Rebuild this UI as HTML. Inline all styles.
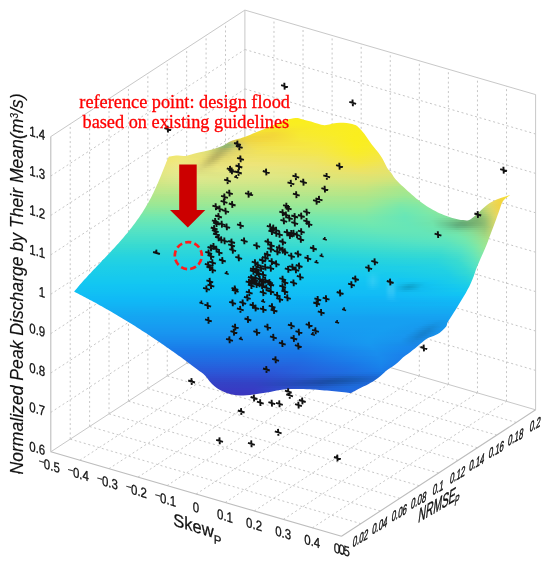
<!DOCTYPE html>
<html><head><meta charset="utf-8"><title>Surface plot</title><style>html,body{margin:0;padding:0;background:#fff}svg{display:block}</style></head>
<body><svg width="550" height="562" viewBox="0 0 550 562">
<rect width="550" height="562" fill="#fff"/>
<path d="M79.87 460.25L273.97 333.75M273.97 333.75L273.97 18.55M108.94 468.7L303.04 342.2M303.04 342.2L303.04 27M138.01 477.15L332.11 350.65M332.11 350.65L332.11 35.45M167.08 485.6L361.18 359.1M361.18 359.1L361.18 43.9M196.15 494.05L390.25 367.55M390.25 367.55L390.25 52.35M225.22 502.5L419.32 376M419.32 376L419.32 60.8M254.29 510.95L448.39 384.45M448.39 384.45L448.39 69.25M283.36 519.4L477.46 392.9M477.46 392.9L477.46 77.7M312.43 527.85L506.53 401.35M506.53 401.35L506.53 86.15M70.21 439.15L360.91 523.65M70.21 439.15L70.21 123.95M89.62 426.5L380.32 511M89.62 426.5L89.62 111.3M109.03 413.85L399.73 498.35M109.03 413.85L109.03 98.65M128.44 401.2L419.14 485.7M128.44 401.2L128.44 86M147.85 388.55L438.55 473.05M147.85 388.55L147.85 73.35M167.26 375.9L457.96 460.4M167.26 375.9L167.26 60.7M186.67 363.25L477.37 447.75M186.67 363.25L186.67 48.05M206.08 350.6L496.78 435.1M206.08 350.6L206.08 35.4M225.49 337.95L516.19 422.45M225.49 337.95L225.49 22.75M50.8 412.4L244.9 285.9M244.9 285.9L535.6 370.4M50.8 373L244.9 246.5M244.9 246.5L535.6 331M50.8 333.6L244.9 207.1M244.9 207.1L535.6 291.6M50.8 294.2L244.9 167.7M244.9 167.7L535.6 252.2M50.8 254.8L244.9 128.3M244.9 128.3L535.6 212.8M50.8 215.4L244.9 88.9M244.9 88.9L535.6 173.4M50.8 176L244.9 49.5M244.9 49.5L535.6 134" stroke="#c6c6c6" stroke-width="1" stroke-dasharray="2 2.7" fill="none"/>
<path d="M50.8 451.8L244.9 325.3M244.9 325.3L535.6 409.8M244.9 325.3L244.9 10.1M535.6 409.8L535.6 94.6M50.8 136.6L244.9 10.1M244.9 10.1L535.6 94.6" stroke="#c8c8c8" stroke-width="1" fill="none"/>
<path d="M50.8 451.8L341.5 536.3M341.5 536.3L535.6 409.8M50.8 451.8L50.8 136.6" stroke="#bdbdbd" stroke-width="1.1" fill="none"/>
<defs><clipPath id="surf"><polygon points="74.1,291.5 75.2,290.2 76.8,288.4 78.4,286.5 79.8,284.8 81.2,283.2 82.7,281.5 84.2,279.8 85.8,278.2 87.3,276.5 88.8,274.8 90.4,273.2 91.9,271.5 93.5,269.8 95.1,268.2 96.7,266.5 98.3,264.8 99.8,263.2 101.4,261.5 103.0,259.8 104.6,258.2 106.2,256.5 107.8,254.8 109.3,253.2 110.9,251.5 112.4,249.8 114.0,248.2 115.5,246.5 117.0,244.8 118.5,243.2 120.0,241.5 121.5,239.8 122.9,238.2 124.3,236.5 125.7,234.8 127.1,233.2 128.5,231.5 129.8,229.8 131.1,228.2 132.4,226.5 133.7,224.8 134.9,223.2 136.1,221.5 137.3,219.8 138.5,218.2 139.7,216.5 140.8,214.8 141.9,213.2 143.0,211.5 144.0,209.8 145.0,208.2 146.0,206.5 147.0,204.8 148.0,203.2 148.9,201.5 149.8,199.8 150.7,198.2 151.6,196.5 152.4,194.8 153.2,193.2 154.0,191.5 154.8,189.8 155.5,188.2 156.3,186.5 157.0,184.8 157.8,183.2 158.5,181.5 159.2,179.8 159.9,178.2 160.6,176.5 161.3,174.8 161.9,173.2 162.6,171.5 163.3,169.8 163.9,168.2 164.6,166.5 165.3,164.8 165.9,163.2 166.6,161.5 167.4,159.6 168.3,157.8 168.9,156.5 169.8,156.4 171.2,156.2 172.7,156.0 174.3,155.8 176.1,155.6 178.2,155.5 180.7,155.7 183.3,156.0 185.8,156.0 187.7,155.6 189.3,155.1 191.3,154.4 193.8,153.7 196.7,153.0 200.0,152.2 203.8,151.4 208.0,150.5 212.0,149.5 215.9,148.3 219.6,147.0 222.9,145.7 225.5,144.3 227.7,142.8 230.0,141.5 232.5,140.6 235.0,139.8 237.6,139.1 240.2,138.4 242.7,137.6 245.3,136.8 247.8,135.8 250.4,134.7 252.9,133.6 255.4,132.6 258.0,131.5 260.5,130.5 263.1,129.4 265.6,128.4 268.2,127.3 270.7,126.2 273.3,125.2 275.8,124.1 278.4,123.0 280.9,121.9 283.5,120.9 286.1,120.0 288.7,119.3 291.1,118.7 293.4,118.2 295.6,118.0 297.5,117.9 299.0,118.2 300.2,118.7 302.0,119.3 304.6,120.0 307.7,120.7 311.0,121.6 314.5,122.7 318.1,123.8 321.2,124.7 323.1,125.1 324.4,125.2 326.3,125.0 329.3,124.4 332.9,123.5 336.5,122.9 340.0,122.7 343.5,122.7 346.7,122.9 349.6,123.4 352.2,124.1 354.3,124.7 355.5,125.1 356.2,125.4 357.1,126.1 358.4,127.2 359.9,128.7 361.4,130.3 362.8,132.0 364.3,133.8 365.7,135.7 367.1,137.8 368.6,140.0 370.0,142.1 371.4,143.9 372.8,145.7 374.2,147.4 375.6,149.2 377.1,150.9 378.5,152.8 379.9,154.8 381.4,156.9 382.8,159.2 384.2,162.0 385.7,165.0 387.1,167.7 388.5,169.7 389.9,171.4 391.3,173.1 392.6,175.0 393.8,177.0 395.3,179.0 397.2,181.1 399.3,183.2 401.4,185.2 403.5,187.1 405.6,189.0 407.7,190.9 409.8,192.8 412.0,194.7 414.1,196.6 416.2,198.4 418.4,200.1 420.5,201.7 422.6,203.3 424.7,204.8 426.8,206.2 428.9,207.5 431.1,208.8 433.2,210.0 435.3,211.1 437.4,212.2 439.5,213.2 441.6,214.1 443.8,214.9 445.9,215.7 448.0,216.5 450.2,217.3 452.3,218.0 454.4,218.6 456.5,219.1 458.6,219.5 460.8,219.9 463.1,220.1 465.0,220.3 466.4,220.4 467.4,220.4 468.5,220.2 469.7,219.7 471.0,218.9 472.6,217.8 474.5,216.2 476.7,214.3 479.0,212.2 481.5,209.8 484.3,207.3 487.0,205.0 489.7,203.1 492.5,201.5 495.0,200.2 497.3,199.2 499.4,198.5 501.4,197.8 503.1,197.2 504.7,196.7 506.2,196.2 507.7,195.7 509.2,195.2 510.2,194.9 508.2,196.4 505.4,198.6 503.0,201.0 501.7,203.4 500.8,206.0 499.8,209.0 498.6,212.4 497.2,216.2 495.8,220.2 494.3,224.3 492.6,228.7 491.0,233.0 489.4,237.3 487.9,241.5 486.2,245.8 484.4,250.1 482.4,254.4 480.6,258.6 478.8,262.7 477.2,266.6 475.8,270.0 475.0,272.4 474.4,274.3 473.6,276.5 472.4,279.6 470.9,283.0 469.3,286.4 467.6,289.6 465.8,292.9 463.8,296.2 461.7,299.8 459.4,303.6 457.3,307.1 455.3,310.2 453.5,313.1 451.8,315.8 450.2,318.3 448.7,320.6 447.5,322.6 447.0,324.0 446.9,325.1 446.2,326.5 444.4,328.5 442.1,330.8 439.8,332.8 437.7,334.1 435.6,335.1 433.5,336.0 431.3,336.8 429.1,337.6 427.1,338.5 425.3,339.7 423.7,341.0 422.0,342.4 420.3,343.8 418.7,345.3 416.9,346.8 414.9,348.4 412.8,350.1 410.5,351.9 408.1,353.7 405.5,355.6 402.9,357.6 400.4,359.9 397.8,362.4 395.3,364.6 392.6,366.5 390.0,368.1 387.6,369.7 385.8,371.1 384.4,372.5 382.7,374.0 380.5,375.9 378.0,377.9 375.5,379.8 373.1,381.4 370.6,382.8 368.2,384.2 365.8,385.5 363.3,386.6 360.9,387.8 358.3,389.1 355.7,390.4 353.6,391.5 352.4,392.2 351.6,392.7 350.7,392.9 349.5,392.9 348.1,392.7 346.4,392.5 344.2,392.3 341.6,392.0 339.1,391.7 336.7,391.5 334.2,391.2 331.8,391.0 329.4,390.8 326.9,390.6 324.5,390.4 322.1,390.2 319.7,389.9 317.3,389.7 315.0,389.5 312.6,389.4 310.0,389.3 306.9,389.2 303.4,389.1 300.0,389.0 296.7,388.9 293.3,388.9 290.0,389.0 286.7,389.2 283.3,389.6 280.0,390.0 276.7,390.6 273.3,391.3 270.0,392.0 266.7,392.6 263.3,393.1 260.0,393.6 256.7,394.1 253.3,394.6 250.0,395.0 246.7,395.3 243.3,395.6 240.0,395.6 236.7,395.3 233.3,394.8 230.0,394.0 226.6,392.9 223.2,391.6 220.0,390.0 217.1,388.2 214.5,386.3 212.0,384.0 209.5,381.2 207.1,378.0 205.0,375.4 203.2,373.7 201.6,372.6 200.0,371.5 198.3,370.2 196.7,369.0 195.0,367.7 193.3,366.5 191.7,365.2 190.0,364.0 188.3,362.8 186.7,361.5 185.0,360.3 183.3,359.1 181.7,357.8 180.0,356.6 178.3,355.4 176.7,354.2 175.0,353.0 173.3,351.8 171.7,350.7 170.0,349.5 168.3,348.3 166.7,347.2 165.0,346.0 163.3,344.8 161.7,343.7 160.0,342.5 158.3,341.4 156.7,340.3 155.0,339.2 153.3,338.1 151.7,336.9 150.0,335.8 148.3,334.7 146.7,333.6 145.0,332.5 143.3,331.4 141.7,330.4 140.0,329.3 138.3,328.2 136.7,327.2 135.0,326.1 133.3,325.1 131.7,324.0 130.0,323.0 128.3,322.0 126.7,321.0 125.0,320.0 123.3,319.0 121.7,317.9 120.0,316.9 118.3,315.9 116.7,315.0 115.0,314.0 113.3,313.0 111.7,312.1 110.0,311.1 108.3,310.1 106.7,309.2 105.0,308.2 103.3,307.3 101.7,306.3 100.0,305.4 98.3,304.5 96.7,303.5 95.0,302.6 93.3,301.7 91.7,300.8 90.0,299.9 88.3,299.0 86.7,298.2 85.0,297.3 83.4,296.5 81.7,295.6 80.0,294.7 77.9,293.6 75.7,292.4"/></clipPath><linearGradient id="g0" gradientUnits="userSpaceOnUse" x1="73" x2="512" y1="0" y2="0"><stop offset="0.000" stop-color="#faee1f"/><stop offset="1.002" stop-color="#faee1e"/></linearGradient><linearGradient id="g1" gradientUnits="userSpaceOnUse" x1="73" x2="512" y1="0" y2="0"><stop offset="0.000" stop-color="#f9ed21"/><stop offset="0.583" stop-color="#faee20"/><stop offset="1.002" stop-color="#faee1e"/></linearGradient><linearGradient id="g2" gradientUnits="userSpaceOnUse" x1="73" x2="512" y1="0" y2="0"><stop offset="0.000" stop-color="#f9ed24"/><stop offset="0.565" stop-color="#f9ed23"/><stop offset="0.683" stop-color="#faee1e"/><stop offset="0.802" stop-color="#faed21"/><stop offset="1.002" stop-color="#faee1e"/></linearGradient><linearGradient id="g3" gradientUnits="userSpaceOnUse" x1="73" x2="512" y1="0" y2="0"><stop offset="0.000" stop-color="#f9ec26"/><stop offset="0.437" stop-color="#f8e92a"/><stop offset="0.601" stop-color="#faed21"/><stop offset="0.692" stop-color="#faee20"/><stop offset="0.802" stop-color="#f9ed24"/><stop offset="0.938" stop-color="#faee1e"/><stop offset="1.002" stop-color="#faee1e"/></linearGradient><linearGradient id="g4" gradientUnits="userSpaceOnUse" x1="73" x2="512" y1="0" y2="0"><stop offset="0.000" stop-color="#f8ec28"/><stop offset="0.401" stop-color="#f7e82c"/><stop offset="0.474" stop-color="#f7e52d"/><stop offset="0.556" stop-color="#f9ec28"/><stop offset="0.656" stop-color="#faee1e"/><stop offset="0.784" stop-color="#f9ec27"/><stop offset="0.920" stop-color="#faee1e"/><stop offset="1.002" stop-color="#faee1e"/></linearGradient><linearGradient id="g5" gradientUnits="userSpaceOnUse" x1="73" x2="512" y1="0" y2="0"><stop offset="0.000" stop-color="#f8eb2b"/><stop offset="0.374" stop-color="#f7e82f"/><stop offset="0.465" stop-color="#f5df32"/><stop offset="0.528" stop-color="#f8eb2c"/><stop offset="0.656" stop-color="#faee1e"/><stop offset="0.774" stop-color="#f8ec29"/><stop offset="0.929" stop-color="#faee1e"/><stop offset="1.002" stop-color="#faee1e"/></linearGradient><linearGradient id="g6" gradientUnits="userSpaceOnUse" x1="73" x2="512" y1="0" y2="0"><stop offset="0.000" stop-color="#f8eb2d"/><stop offset="0.355" stop-color="#f7e933"/><stop offset="0.456" stop-color="#f4d936"/><stop offset="0.519" stop-color="#f8ea2f"/><stop offset="0.601" stop-color="#f9ed25"/><stop offset="0.647" stop-color="#faee1e"/><stop offset="0.702" stop-color="#f9ed25"/><stop offset="0.784" stop-color="#f8eb2b"/><stop offset="0.884" stop-color="#faed21"/><stop offset="1.002" stop-color="#faee1e"/></linearGradient><linearGradient id="g7" gradientUnits="userSpaceOnUse" x1="73" x2="512" y1="0" y2="0"><stop offset="0.000" stop-color="#f7eb2f"/><stop offset="0.273" stop-color="#f7ea37"/><stop offset="0.355" stop-color="#f5e638"/><stop offset="0.410" stop-color="#f3db38"/><stop offset="0.456" stop-color="#f4d739"/><stop offset="0.519" stop-color="#f7ea32"/><stop offset="0.601" stop-color="#f9ed26"/><stop offset="0.647" stop-color="#faee1e"/><stop offset="0.692" stop-color="#f9ed24"/><stop offset="0.765" stop-color="#f8eb2e"/><stop offset="0.875" stop-color="#f9ed25"/><stop offset="0.920" stop-color="#faee1e"/><stop offset="1.002" stop-color="#faee1e"/></linearGradient><linearGradient id="g8" gradientUnits="userSpaceOnUse" x1="73" x2="512" y1="0" y2="0"><stop offset="0.000" stop-color="#f7ea32"/><stop offset="0.219" stop-color="#f7ea38"/><stop offset="0.346" stop-color="#f3e441"/><stop offset="0.383" stop-color="#ecd83b"/><stop offset="0.446" stop-color="#f3d63b"/><stop offset="0.519" stop-color="#f7e935"/><stop offset="0.592" stop-color="#f8ec2b"/><stop offset="0.638" stop-color="#faee1f"/><stop offset="0.683" stop-color="#f9ed23"/><stop offset="0.747" stop-color="#f7ea30"/><stop offset="0.866" stop-color="#f8ec2a"/><stop offset="0.920" stop-color="#faee1e"/><stop offset="1.002" stop-color="#faee1e"/></linearGradient><linearGradient id="g9" gradientUnits="userSpaceOnUse" x1="73" x2="512" y1="0" y2="0"><stop offset="0.000" stop-color="#f7e935"/><stop offset="0.200" stop-color="#f7ea3b"/><stop offset="0.319" stop-color="#f3e650"/><stop offset="0.346" stop-color="#ebde53"/><stop offset="0.374" stop-color="#e2d044"/><stop offset="0.410" stop-color="#f1d73f"/><stop offset="0.456" stop-color="#f4d93d"/><stop offset="0.519" stop-color="#f7e939"/><stop offset="0.592" stop-color="#f8eb2d"/><stop offset="0.638" stop-color="#faee1f"/><stop offset="0.674" stop-color="#faee21"/><stop offset="0.738" stop-color="#f7ea32"/><stop offset="0.856" stop-color="#f8eb2e"/><stop offset="0.929" stop-color="#faee1e"/><stop offset="1.002" stop-color="#faee1e"/></linearGradient><linearGradient id="g10" gradientUnits="userSpaceOnUse" x1="73" x2="512" y1="0" y2="0"><stop offset="0.000" stop-color="#f6e938"/><stop offset="0.191" stop-color="#f6e93e"/><stop offset="0.292" stop-color="#f2e657"/><stop offset="0.328" stop-color="#e6e06e"/><stop offset="0.346" stop-color="#d5d46b"/><stop offset="0.355" stop-color="#cfca64"/><stop offset="0.364" stop-color="#d0c45d"/><stop offset="0.392" stop-color="#ead448"/><stop offset="0.428" stop-color="#f3d841"/><stop offset="0.528" stop-color="#f6e93c"/><stop offset="0.592" stop-color="#f8eb30"/><stop offset="0.638" stop-color="#faee1f"/><stop offset="0.674" stop-color="#f9ed22"/><stop offset="0.738" stop-color="#f7e935"/><stop offset="0.856" stop-color="#f7ea31"/><stop offset="0.929" stop-color="#faee1e"/><stop offset="1.002" stop-color="#faee1e"/></linearGradient><linearGradient id="g11" gradientUnits="userSpaceOnUse" x1="73" x2="512" y1="0" y2="0"><stop offset="0.000" stop-color="#f6e83b"/><stop offset="0.182" stop-color="#f6e941"/><stop offset="0.273" stop-color="#f1e65d"/><stop offset="0.301" stop-color="#ebe36d"/><stop offset="0.319" stop-color="#dbe278"/><stop offset="0.337" stop-color="#b9d67c"/><stop offset="0.346" stop-color="#abc976"/><stop offset="0.355" stop-color="#a9be6d"/><stop offset="0.364" stop-color="#b7bd66"/><stop offset="0.383" stop-color="#dece5b"/><stop offset="0.401" stop-color="#eed84c"/><stop offset="0.465" stop-color="#f5e143"/><stop offset="0.556" stop-color="#f6e93d"/><stop offset="0.647" stop-color="#faee1f"/><stop offset="0.692" stop-color="#f8ec2b"/><stop offset="0.747" stop-color="#f6e939"/><stop offset="0.866" stop-color="#f7ea33"/><stop offset="0.938" stop-color="#faee1e"/><stop offset="1.002" stop-color="#faee1e"/></linearGradient><linearGradient id="g12" gradientUnits="userSpaceOnUse" x1="73" x2="512" y1="0" y2="0"><stop offset="0.000" stop-color="#f5e83f"/><stop offset="0.182" stop-color="#f5e845"/><stop offset="0.255" stop-color="#f1e65f"/><stop offset="0.292" stop-color="#e9e472"/><stop offset="0.310" stop-color="#dbe37a"/><stop offset="0.319" stop-color="#cde07f"/><stop offset="0.328" stop-color="#b6d981"/><stop offset="0.337" stop-color="#a0cb7d"/><stop offset="0.346" stop-color="#93bb75"/><stop offset="0.355" stop-color="#95b66f"/><stop offset="0.364" stop-color="#abbe6d"/><stop offset="0.374" stop-color="#c8ca6a"/><stop offset="0.383" stop-color="#ddd165"/><stop offset="0.401" stop-color="#eeda53"/><stop offset="0.437" stop-color="#f4df48"/><stop offset="0.547" stop-color="#f6e841"/><stop offset="0.601" stop-color="#f8eb31"/><stop offset="0.647" stop-color="#faee20"/><stop offset="0.683" stop-color="#f8ec29"/><stop offset="0.738" stop-color="#f6e83b"/><stop offset="0.847" stop-color="#f6e938"/><stop offset="0.911" stop-color="#f8ec29"/><stop offset="0.938" stop-color="#faee1e"/><stop offset="1.002" stop-color="#faee1e"/></linearGradient><linearGradient id="g13" gradientUnits="userSpaceOnUse" x1="73" x2="512" y1="0" y2="0"><stop offset="0.000" stop-color="#f5e742"/><stop offset="0.173" stop-color="#f5e747"/><stop offset="0.237" stop-color="#f2e75e"/><stop offset="0.292" stop-color="#e5e476"/><stop offset="0.310" stop-color="#d8e27c"/><stop offset="0.319" stop-color="#cadc7d"/><stop offset="0.337" stop-color="#9ebe73"/><stop offset="0.346" stop-color="#95b36d"/><stop offset="0.355" stop-color="#a0b86d"/><stop offset="0.374" stop-color="#d0cf6c"/><stop offset="0.383" stop-color="#e1d568"/><stop offset="0.410" stop-color="#f1de53"/><stop offset="0.501" stop-color="#f5e749"/><stop offset="0.574" stop-color="#f6e93f"/><stop offset="0.647" stop-color="#faee22"/><stop offset="0.683" stop-color="#f8ec2b"/><stop offset="0.738" stop-color="#f5e83e"/><stop offset="0.847" stop-color="#f6e83c"/><stop offset="0.911" stop-color="#f8eb2c"/><stop offset="0.938" stop-color="#faee1e"/><stop offset="1.002" stop-color="#faee1e"/></linearGradient><linearGradient id="g14" gradientUnits="userSpaceOnUse" x1="73" x2="512" y1="0" y2="0"><stop offset="0.000" stop-color="#f4e645"/><stop offset="0.173" stop-color="#f4e74b"/><stop offset="0.246" stop-color="#f0e668"/><stop offset="0.282" stop-color="#e7e477"/><stop offset="0.310" stop-color="#d8df7a"/><stop offset="0.319" stop-color="#ccd677"/><stop offset="0.337" stop-color="#aab568"/><stop offset="0.346" stop-color="#aab366"/><stop offset="0.364" stop-color="#cccc6d"/><stop offset="0.383" stop-color="#e5d867"/><stop offset="0.419" stop-color="#f2e155"/><stop offset="0.565" stop-color="#f5e845"/><stop offset="0.647" stop-color="#f9ed24"/><stop offset="0.683" stop-color="#f8eb2d"/><stop offset="0.738" stop-color="#f5e741"/><stop offset="0.847" stop-color="#f5e73f"/><stop offset="0.911" stop-color="#f7eb2f"/><stop offset="0.948" stop-color="#faee1e"/><stop offset="1.002" stop-color="#faee1e"/></linearGradient><linearGradient id="g15" gradientUnits="userSpaceOnUse" x1="73" x2="512" y1="0" y2="0"><stop offset="0.000" stop-color="#f3e648"/><stop offset="0.173" stop-color="#f4e750"/><stop offset="0.264" stop-color="#ede573"/><stop offset="0.301" stop-color="#e0e279"/><stop offset="0.310" stop-color="#d9dc77"/><stop offset="0.328" stop-color="#babd69"/><stop offset="0.337" stop-color="#b1b363"/><stop offset="0.346" stop-color="#b9b965"/><stop offset="0.364" stop-color="#d9d26c"/><stop offset="0.392" stop-color="#ecde62"/><stop offset="0.456" stop-color="#f4e555"/><stop offset="0.565" stop-color="#f5e749"/><stop offset="0.647" stop-color="#f9ed27"/><stop offset="0.683" stop-color="#f7eb30"/><stop offset="0.738" stop-color="#f4e644"/><stop offset="0.847" stop-color="#f5e742"/><stop offset="0.911" stop-color="#f7ea33"/><stop offset="0.948" stop-color="#faee1e"/><stop offset="1.002" stop-color="#faee1e"/></linearGradient><linearGradient id="g16" gradientUnits="userSpaceOnUse" x1="73" x2="512" y1="0" y2="0"><stop offset="0.000" stop-color="#f2e54d"/><stop offset="0.164" stop-color="#f2e653"/><stop offset="0.273" stop-color="#ece577"/><stop offset="0.301" stop-color="#e2e078"/><stop offset="0.310" stop-color="#d9d874"/><stop offset="0.328" stop-color="#b8b764"/><stop offset="0.337" stop-color="#b7b462"/><stop offset="0.355" stop-color="#d7cf6c"/><stop offset="0.374" stop-color="#e6da6a"/><stop offset="0.419" stop-color="#f1e25e"/><stop offset="0.565" stop-color="#f4e74d"/><stop offset="0.647" stop-color="#f8ec2b"/><stop offset="0.683" stop-color="#f7ea34"/><stop offset="0.738" stop-color="#f3e648"/><stop offset="0.829" stop-color="#f3e648"/><stop offset="0.902" stop-color="#f6e83a"/><stop offset="0.957" stop-color="#faee1e"/><stop offset="1.002" stop-color="#faee1e"/></linearGradient><linearGradient id="g17" gradientUnits="userSpaceOnUse" x1="73" x2="512" y1="0" y2="0"><stop offset="0.000" stop-color="#f1e552"/><stop offset="0.164" stop-color="#f1e658"/><stop offset="0.255" stop-color="#efe774"/><stop offset="0.292" stop-color="#e9e378"/><stop offset="0.301" stop-color="#e3de76"/><stop offset="0.310" stop-color="#d7d271"/><stop offset="0.319" stop-color="#c3bf68"/><stop offset="0.328" stop-color="#b8b362"/><stop offset="0.337" stop-color="#c0bb65"/><stop offset="0.355" stop-color="#dfd56e"/><stop offset="0.392" stop-color="#eee167"/><stop offset="0.565" stop-color="#f3e652"/><stop offset="0.638" stop-color="#f8eb31"/><stop offset="0.665" stop-color="#f7eb32"/><stop offset="0.738" stop-color="#f2e54d"/><stop offset="0.829" stop-color="#f2e54c"/><stop offset="0.911" stop-color="#f6e83a"/><stop offset="0.957" stop-color="#faee1e"/><stop offset="1.002" stop-color="#faee1e"/></linearGradient><linearGradient id="g18" gradientUnits="userSpaceOnUse" x1="73" x2="512" y1="0" y2="0"><stop offset="0.000" stop-color="#efe456"/><stop offset="0.164" stop-color="#f0e55d"/><stop offset="0.246" stop-color="#f0e876"/><stop offset="0.292" stop-color="#eae276"/><stop offset="0.301" stop-color="#e2db73"/><stop offset="0.319" stop-color="#beb864"/><stop offset="0.328" stop-color="#bdb663"/><stop offset="0.346" stop-color="#dcd46e"/><stop offset="0.364" stop-color="#e8de6f"/><stop offset="0.428" stop-color="#f0e467"/><stop offset="0.556" stop-color="#f1e65a"/><stop offset="0.647" stop-color="#f7ea35"/><stop offset="0.683" stop-color="#f6e83d"/><stop offset="0.738" stop-color="#f1e552"/><stop offset="0.838" stop-color="#f1e550"/><stop offset="0.911" stop-color="#f5e83e"/><stop offset="0.948" stop-color="#f9ec28"/><stop offset="0.957" stop-color="#faee1f"/><stop offset="1.002" stop-color="#faee1e"/></linearGradient><linearGradient id="g19" gradientUnits="userSpaceOnUse" x1="73" x2="512" y1="0" y2="0"><stop offset="0.000" stop-color="#eee45b"/><stop offset="0.164" stop-color="#efe562"/><stop offset="0.237" stop-color="#f0e879"/><stop offset="0.282" stop-color="#ede577"/><stop offset="0.292" stop-color="#e9e175"/><stop offset="0.301" stop-color="#ddd670"/><stop offset="0.310" stop-color="#c9c368"/><stop offset="0.319" stop-color="#beb863"/><stop offset="0.328" stop-color="#c7c067"/><stop offset="0.337" stop-color="#d9d16e"/><stop offset="0.346" stop-color="#e4db71"/><stop offset="0.392" stop-color="#efe36f"/><stop offset="0.556" stop-color="#f0e55f"/><stop offset="0.647" stop-color="#f6e93a"/><stop offset="0.683" stop-color="#f5e742"/><stop offset="0.738" stop-color="#efe457"/><stop offset="0.838" stop-color="#f0e455"/><stop offset="0.911" stop-color="#f5e742"/><stop offset="0.948" stop-color="#f8eb2c"/><stop offset="0.966" stop-color="#faee1e"/><stop offset="1.002" stop-color="#faee1e"/></linearGradient><linearGradient id="g20" gradientUnits="userSpaceOnUse" x1="73" x2="512" y1="0" y2="0"><stop offset="0.000" stop-color="#ede35f"/><stop offset="0.164" stop-color="#eee467"/><stop offset="0.237" stop-color="#f0e87e"/><stop offset="0.282" stop-color="#ece478"/><stop offset="0.292" stop-color="#e5de75"/><stop offset="0.310" stop-color="#c6bf67"/><stop offset="0.319" stop-color="#c5bf67"/><stop offset="0.337" stop-color="#e2da73"/><stop offset="0.364" stop-color="#ece375"/><stop offset="0.547" stop-color="#eee566"/><stop offset="0.601" stop-color="#f2e652"/><stop offset="0.647" stop-color="#f5e840"/><stop offset="0.683" stop-color="#f4e647"/><stop offset="0.738" stop-color="#eee45c"/><stop offset="0.838" stop-color="#eee459"/><stop offset="0.902" stop-color="#f3e64a"/><stop offset="0.948" stop-color="#f7eb2f"/><stop offset="0.966" stop-color="#faee1e"/><stop offset="1.002" stop-color="#faee1e"/></linearGradient><linearGradient id="g21" gradientUnits="userSpaceOnUse" x1="73" x2="512" y1="0" y2="0"><stop offset="0.000" stop-color="#ebe364"/><stop offset="0.164" stop-color="#ece46b"/><stop offset="0.237" stop-color="#efe883"/><stop offset="0.282" stop-color="#eae37b"/><stop offset="0.292" stop-color="#e1da76"/><stop offset="0.301" stop-color="#d2cb6f"/><stop offset="0.310" stop-color="#c9c36b"/><stop offset="0.319" stop-color="#d1cb6f"/><stop offset="0.337" stop-color="#e7e078"/><stop offset="0.410" stop-color="#eee477"/><stop offset="0.556" stop-color="#ede469"/><stop offset="0.620" stop-color="#f3e64e"/><stop offset="0.656" stop-color="#f4e746"/><stop offset="0.738" stop-color="#ece361"/><stop offset="0.838" stop-color="#ede35e"/><stop offset="0.902" stop-color="#f2e54e"/><stop offset="0.948" stop-color="#f7ea33"/><stop offset="0.966" stop-color="#faee20"/><stop offset="1.002" stop-color="#faee1e"/></linearGradient><linearGradient id="g22" gradientUnits="userSpaceOnUse" x1="73" x2="512" y1="0" y2="0"><stop offset="0.000" stop-color="#eae268"/><stop offset="0.164" stop-color="#ebe470"/><stop offset="0.237" stop-color="#eee887"/><stop offset="0.273" stop-color="#ece681"/><stop offset="0.282" stop-color="#e7e17d"/><stop offset="0.301" stop-color="#d1cc72"/><stop offset="0.310" stop-color="#d1cc72"/><stop offset="0.328" stop-color="#e6df7b"/><stop offset="0.374" stop-color="#ede57d"/><stop offset="0.547" stop-color="#ece46f"/><stop offset="0.610" stop-color="#f0e559"/><stop offset="0.647" stop-color="#f3e64d"/><stop offset="0.683" stop-color="#f0e554"/><stop offset="0.738" stop-color="#ebe266"/><stop offset="0.838" stop-color="#ece362"/><stop offset="0.902" stop-color="#f0e453"/><stop offset="0.948" stop-color="#f6e937"/><stop offset="0.975" stop-color="#faee1e"/><stop offset="1.002" stop-color="#faee1e"/></linearGradient><linearGradient id="g23" gradientUnits="userSpaceOnUse" x1="73" x2="512" y1="0" y2="0"><stop offset="0.000" stop-color="#e7e26a"/><stop offset="0.164" stop-color="#e8e472"/><stop offset="0.237" stop-color="#ece889"/><stop offset="0.273" stop-color="#e9e583"/><stop offset="0.301" stop-color="#d5d176"/><stop offset="0.328" stop-color="#e8e47f"/><stop offset="0.483" stop-color="#eae579"/><stop offset="0.583" stop-color="#ece36b"/><stop offset="0.647" stop-color="#f1e554"/><stop offset="0.692" stop-color="#ede35e"/><stop offset="0.738" stop-color="#e8e26a"/><stop offset="0.856" stop-color="#ebe264"/><stop offset="0.911" stop-color="#f0e453"/><stop offset="0.957" stop-color="#f7ea32"/><stop offset="0.975" stop-color="#faee1e"/><stop offset="1.002" stop-color="#faee1e"/></linearGradient><linearGradient id="g24" gradientUnits="userSpaceOnUse" x1="73" x2="512" y1="0" y2="0"><stop offset="0.000" stop-color="#e4e36d"/><stop offset="0.164" stop-color="#e6e474"/><stop offset="0.237" stop-color="#eae98b"/><stop offset="0.273" stop-color="#e6e484"/><stop offset="0.292" stop-color="#dad87c"/><stop offset="0.310" stop-color="#e0df7e"/><stop offset="0.337" stop-color="#e8e682"/><stop offset="0.510" stop-color="#e7e579"/><stop offset="0.601" stop-color="#ebe369"/><stop offset="0.647" stop-color="#eee45c"/><stop offset="0.738" stop-color="#e5e36c"/><stop offset="0.875" stop-color="#ebe265"/><stop offset="0.920" stop-color="#f0e453"/><stop offset="0.957" stop-color="#f6e936"/><stop offset="0.975" stop-color="#faee1f"/><stop offset="1.002" stop-color="#faee1e"/></linearGradient><linearGradient id="g25" gradientUnits="userSpaceOnUse" x1="73" x2="512" y1="0" y2="0"><stop offset="0.000" stop-color="#e1e36f"/><stop offset="0.164" stop-color="#e3e476"/><stop offset="0.237" stop-color="#e7e98c"/><stop offset="0.273" stop-color="#e3e485"/><stop offset="0.292" stop-color="#dcdd80"/><stop offset="0.328" stop-color="#e5e784"/><stop offset="0.483" stop-color="#e4e67e"/><stop offset="0.592" stop-color="#e7e36f"/><stop offset="0.656" stop-color="#ece363"/><stop offset="0.756" stop-color="#e0e36f"/><stop offset="0.884" stop-color="#eae267"/><stop offset="0.929" stop-color="#f1e551"/><stop offset="0.966" stop-color="#f7eb2f"/><stop offset="0.975" stop-color="#f9ed23"/><stop offset="0.993" stop-color="#faee1e"/><stop offset="1.002" stop-color="#faee1e"/></linearGradient><linearGradient id="g26" gradientUnits="userSpaceOnUse" x1="73" x2="512" y1="0" y2="0"><stop offset="0.000" stop-color="#dee371"/><stop offset="0.164" stop-color="#e0e578"/><stop offset="0.237" stop-color="#e5e98d"/><stop offset="0.292" stop-color="#dde183"/><stop offset="0.355" stop-color="#e3e787"/><stop offset="0.538" stop-color="#e1e579"/><stop offset="0.665" stop-color="#e9e26a"/><stop offset="0.765" stop-color="#dde372"/><stop offset="0.893" stop-color="#eae268"/><stop offset="0.938" stop-color="#f1e54f"/><stop offset="0.984" stop-color="#faee1e"/><stop offset="1.002" stop-color="#faee1e"/></linearGradient><linearGradient id="g27" gradientUnits="userSpaceOnUse" x1="73" x2="512" y1="0" y2="0"><stop offset="0.000" stop-color="#dbe373"/><stop offset="0.164" stop-color="#dde57a"/><stop offset="0.237" stop-color="#e2e98e"/><stop offset="0.292" stop-color="#dee586"/><stop offset="0.446" stop-color="#e0e784"/><stop offset="0.601" stop-color="#e1e473"/><stop offset="0.674" stop-color="#e3e36e"/><stop offset="0.765" stop-color="#d9e475"/><stop offset="0.902" stop-color="#e9e269"/><stop offset="0.938" stop-color="#f0e453"/><stop offset="0.975" stop-color="#f8eb2a"/><stop offset="0.984" stop-color="#faee1e"/><stop offset="1.002" stop-color="#faee1e"/></linearGradient><linearGradient id="g28" gradientUnits="userSpaceOnUse" x1="73" x2="512" y1="0" y2="0"><stop offset="0.000" stop-color="#d8e475"/><stop offset="0.164" stop-color="#dae57c"/><stop offset="0.237" stop-color="#dfe98e"/><stop offset="0.319" stop-color="#dee788"/><stop offset="0.465" stop-color="#dde784"/><stop offset="0.610" stop-color="#dfe474"/><stop offset="0.683" stop-color="#dee372"/><stop offset="0.765" stop-color="#d5e477"/><stop offset="0.902" stop-color="#e6e26b"/><stop offset="0.929" stop-color="#ede35f"/><stop offset="0.966" stop-color="#f6e83b"/><stop offset="0.984" stop-color="#faee1f"/><stop offset="1.002" stop-color="#faee1e"/></linearGradient><linearGradient id="g29" gradientUnits="userSpaceOnUse" x1="73" x2="512" y1="0" y2="0"><stop offset="0.000" stop-color="#d6e477"/><stop offset="0.173" stop-color="#d8e57f"/><stop offset="0.237" stop-color="#dce88e"/><stop offset="0.337" stop-color="#dbe88a"/><stop offset="0.501" stop-color="#d9e682"/><stop offset="0.665" stop-color="#dce474"/><stop offset="0.765" stop-color="#cfe47b"/><stop offset="0.911" stop-color="#e6e26b"/><stop offset="0.938" stop-color="#eee35c"/><stop offset="0.975" stop-color="#f7ea32"/><stop offset="0.984" stop-color="#f9ed23"/><stop offset="1.002" stop-color="#faee1e"/></linearGradient><linearGradient id="g30" gradientUnits="userSpaceOnUse" x1="73" x2="512" y1="0" y2="0"><stop offset="0.000" stop-color="#d2e479"/><stop offset="0.173" stop-color="#d4e680"/><stop offset="0.246" stop-color="#d8e88e"/><stop offset="0.501" stop-color="#d5e683"/><stop offset="0.674" stop-color="#d7e477"/><stop offset="0.756" stop-color="#c7e57e"/><stop offset="0.911" stop-color="#e3e36d"/><stop offset="0.929" stop-color="#eae268"/><stop offset="0.957" stop-color="#f2e54e"/><stop offset="0.984" stop-color="#f9ec27"/><stop offset="0.993" stop-color="#faee1e"/><stop offset="1.002" stop-color="#faee1e"/></linearGradient><linearGradient id="g31" gradientUnits="userSpaceOnUse" x1="73" x2="512" y1="0" y2="0"><stop offset="0.000" stop-color="#cde47b"/><stop offset="0.173" stop-color="#cfe682"/><stop offset="0.246" stop-color="#d4e88d"/><stop offset="0.492" stop-color="#d1e685"/><stop offset="0.665" stop-color="#d3e47a"/><stop offset="0.756" stop-color="#bfe581"/><stop offset="0.920" stop-color="#e4e36d"/><stop offset="0.938" stop-color="#ebe265"/><stop offset="0.975" stop-color="#f6e73a"/><stop offset="0.993" stop-color="#faed1e"/><stop offset="1.002" stop-color="#faee1e"/></linearGradient><linearGradient id="g32" gradientUnits="userSpaceOnUse" x1="73" x2="512" y1="0" y2="0"><stop offset="0.000" stop-color="#c8e57e"/><stop offset="0.182" stop-color="#cbe684"/><stop offset="0.255" stop-color="#cee88d"/><stop offset="0.492" stop-color="#cce686"/><stop offset="0.665" stop-color="#cde57c"/><stop offset="0.756" stop-color="#b8e685"/><stop offset="0.920" stop-color="#e1e36f"/><stop offset="0.938" stop-color="#e9e268"/><stop offset="0.966" stop-color="#f3e44a"/><stop offset="0.993" stop-color="#faed1f"/><stop offset="1.002" stop-color="#faee1e"/></linearGradient><linearGradient id="g33" gradientUnits="userSpaceOnUse" x1="73" x2="512" y1="0" y2="0"><stop offset="0.000" stop-color="#c3e580"/><stop offset="0.191" stop-color="#c7e687"/><stop offset="0.264" stop-color="#c9e88c"/><stop offset="0.501" stop-color="#c7e687"/><stop offset="0.665" stop-color="#c7e57f"/><stop offset="0.747" stop-color="#b0e688"/><stop offset="0.793" stop-color="#b7e685"/><stop offset="0.929" stop-color="#e2e36e"/><stop offset="0.948" stop-color="#ebe164"/><stop offset="0.984" stop-color="#f6e733"/><stop offset="0.993" stop-color="#f9ec21"/><stop offset="1.002" stop-color="#faed1e"/></linearGradient><linearGradient id="g34" gradientUnits="userSpaceOnUse" x1="73" x2="512" y1="0" y2="0"><stop offset="0.000" stop-color="#bfe582"/><stop offset="0.191" stop-color="#c2e788"/><stop offset="0.273" stop-color="#c4e78c"/><stop offset="0.501" stop-color="#c3e788"/><stop offset="0.665" stop-color="#c2e581"/><stop offset="0.738" stop-color="#ace68a"/><stop offset="0.793" stop-color="#b0e688"/><stop offset="0.929" stop-color="#dfe370"/><stop offset="0.948" stop-color="#e9e167"/><stop offset="0.984" stop-color="#f6e537"/><stop offset="0.993" stop-color="#f9ea25"/><stop offset="1.002" stop-color="#faed1f"/></linearGradient><linearGradient id="g35" gradientUnits="userSpaceOnUse" x1="73" x2="512" y1="0" y2="0"><stop offset="0.000" stop-color="#bae584"/><stop offset="0.200" stop-color="#bde78a"/><stop offset="0.446" stop-color="#bfe78c"/><stop offset="0.665" stop-color="#bce583"/><stop offset="0.747" stop-color="#a7e78d"/><stop offset="0.802" stop-color="#aee689"/><stop offset="0.929" stop-color="#dce372"/><stop offset="0.957" stop-color="#ecdf60"/><stop offset="0.984" stop-color="#f5e339"/><stop offset="0.993" stop-color="#f8e928"/><stop offset="1.002" stop-color="#f9ec21"/></linearGradient><linearGradient id="g36" gradientUnits="userSpaceOnUse" x1="73" x2="512" y1="0" y2="0"><stop offset="0.000" stop-color="#b5e686"/><stop offset="0.219" stop-color="#b9e78d"/><stop offset="0.492" stop-color="#b9e78b"/><stop offset="0.665" stop-color="#b7e686"/><stop offset="0.756" stop-color="#a2e790"/><stop offset="0.820" stop-color="#b0e688"/><stop offset="0.929" stop-color="#dae373"/><stop offset="0.957" stop-color="#ebdd61"/><stop offset="0.975" stop-color="#f2dd48"/><stop offset="0.993" stop-color="#f8e82a"/><stop offset="1.002" stop-color="#f9eb23"/></linearGradient><linearGradient id="g37" gradientUnits="userSpaceOnUse" x1="73" x2="512" y1="0" y2="0"><stop offset="0.000" stop-color="#b0e688"/><stop offset="0.428" stop-color="#b5e78e"/><stop offset="0.656" stop-color="#b4e687"/><stop offset="0.756" stop-color="#9ee892"/><stop offset="0.829" stop-color="#b0e688"/><stop offset="0.920" stop-color="#d3e377"/><stop offset="0.948" stop-color="#e3df6a"/><stop offset="0.975" stop-color="#f1da49"/><stop offset="0.993" stop-color="#f7e62c"/><stop offset="1.002" stop-color="#f9eb25"/></linearGradient><linearGradient id="g38" gradientUnits="userSpaceOnUse" x1="73" x2="512" y1="0" y2="0"><stop offset="0.000" stop-color="#abe68b"/><stop offset="0.465" stop-color="#afe78f"/><stop offset="0.674" stop-color="#abe68b"/><stop offset="0.756" stop-color="#98e896"/><stop offset="0.847" stop-color="#b0e688"/><stop offset="0.911" stop-color="#c8e27b"/><stop offset="0.938" stop-color="#dbe170"/><stop offset="0.957" stop-color="#ebda60"/><stop offset="0.975" stop-color="#f2d845"/><stop offset="0.993" stop-color="#f7e52b"/><stop offset="1.002" stop-color="#f8e929"/></linearGradient><linearGradient id="g39" gradientUnits="userSpaceOnUse" x1="73" x2="512" y1="0" y2="0"><stop offset="0.000" stop-color="#a7e78e"/><stop offset="0.483" stop-color="#aae790"/><stop offset="0.665" stop-color="#a8e78d"/><stop offset="0.756" stop-color="#90e89b"/><stop offset="0.902" stop-color="#bee27f"/><stop offset="0.938" stop-color="#dae070"/><stop offset="0.957" stop-color="#ebd95d"/><stop offset="0.975" stop-color="#f2d641"/><stop offset="0.984" stop-color="#f5dd33"/><stop offset="1.002" stop-color="#f7e82d"/></linearGradient><linearGradient id="g40" gradientUnits="userSpaceOnUse" x1="73" x2="512" y1="0" y2="0"><stop offset="0.000" stop-color="#a2e790"/><stop offset="0.510" stop-color="#a5e892"/><stop offset="0.665" stop-color="#a4e790"/><stop offset="0.729" stop-color="#8fe89c"/><stop offset="0.765" stop-color="#8ae89f"/><stop offset="0.856" stop-color="#aae68b"/><stop offset="0.902" stop-color="#b8e180"/><stop offset="0.938" stop-color="#d9df70"/><stop offset="0.957" stop-color="#ecd85a"/><stop offset="0.975" stop-color="#f2d53e"/><stop offset="0.993" stop-color="#f5e134"/><stop offset="1.002" stop-color="#f6e733"/></linearGradient><linearGradient id="g41" gradientUnits="userSpaceOnUse" x1="73" x2="512" y1="0" y2="0"><stop offset="0.000" stop-color="#9de893"/><stop offset="0.528" stop-color="#a0e894"/><stop offset="0.665" stop-color="#9fe792"/><stop offset="0.711" stop-color="#91e89b"/><stop offset="0.747" stop-color="#83e8a4"/><stop offset="0.784" stop-color="#89e8a0"/><stop offset="0.838" stop-color="#a1e790"/><stop offset="0.902" stop-color="#b0df82"/><stop offset="0.929" stop-color="#c8de77"/><stop offset="0.948" stop-color="#e0dc68"/><stop offset="0.957" stop-color="#ead75d"/><stop offset="0.975" stop-color="#f2d43f"/><stop offset="1.002" stop-color="#f5e539"/></linearGradient><linearGradient id="g42" gradientUnits="userSpaceOnUse" x1="73" x2="512" y1="0" y2="0"><stop offset="0.000" stop-color="#98e896"/><stop offset="0.547" stop-color="#9be895"/><stop offset="0.674" stop-color="#9ae895"/><stop offset="0.747" stop-color="#7de8a8"/><stop offset="0.784" stop-color="#83e8a4"/><stop offset="0.838" stop-color="#9de893"/><stop offset="0.893" stop-color="#a8e187"/><stop offset="0.911" stop-color="#addb7f"/><stop offset="0.929" stop-color="#c0db78"/><stop offset="0.948" stop-color="#dcdb6a"/><stop offset="0.966" stop-color="#eed34e"/><stop offset="0.975" stop-color="#f2d440"/><stop offset="1.002" stop-color="#f4e43f"/></linearGradient><linearGradient id="g43" gradientUnits="userSpaceOnUse" x1="73" x2="512" y1="0" y2="0"><stop offset="0.000" stop-color="#92e89a"/><stop offset="0.538" stop-color="#96e899"/><stop offset="0.665" stop-color="#97e897"/><stop offset="0.747" stop-color="#78e8ab"/><stop offset="0.784" stop-color="#7ee8a7"/><stop offset="0.847" stop-color="#9ce894"/><stop offset="0.893" stop-color="#a3e088"/><stop offset="0.911" stop-color="#a5d880"/><stop offset="0.929" stop-color="#b8d878"/><stop offset="0.948" stop-color="#d8da6b"/><stop offset="0.966" stop-color="#edd450"/><stop offset="0.975" stop-color="#f1d443"/><stop offset="1.002" stop-color="#f4e345"/></linearGradient><linearGradient id="g44" gradientUnits="userSpaceOnUse" x1="73" x2="512" y1="0" y2="0"><stop offset="0.000" stop-color="#8be89e"/><stop offset="0.547" stop-color="#90e89c"/><stop offset="0.665" stop-color="#91e89b"/><stop offset="0.747" stop-color="#73e8ae"/><stop offset="0.784" stop-color="#7ae8aa"/><stop offset="0.856" stop-color="#9be894"/><stop offset="0.893" stop-color="#9ede89"/><stop offset="0.920" stop-color="#a2d27c"/><stop offset="0.938" stop-color="#c0d774"/><stop offset="0.957" stop-color="#e2d762"/><stop offset="0.966" stop-color="#ecd453"/><stop offset="0.975" stop-color="#f0d548"/><stop offset="1.002" stop-color="#f2e24d"/></linearGradient><linearGradient id="g45" gradientUnits="userSpaceOnUse" x1="73" x2="512" y1="0" y2="0"><stop offset="0.000" stop-color="#84e8a3"/><stop offset="0.547" stop-color="#89e8a0"/><stop offset="0.665" stop-color="#8ce89e"/><stop offset="0.747" stop-color="#70e8b0"/><stop offset="0.784" stop-color="#76e8ac"/><stop offset="0.866" stop-color="#99e795"/><stop offset="0.893" stop-color="#9add8a"/><stop offset="0.920" stop-color="#9bcd7a"/><stop offset="0.929" stop-color="#a5cf78"/><stop offset="0.948" stop-color="#ced76e"/><stop offset="0.966" stop-color="#ebd657"/><stop offset="0.975" stop-color="#efd74d"/><stop offset="1.002" stop-color="#efe254"/></linearGradient><linearGradient id="g46" gradientUnits="userSpaceOnUse" x1="73" x2="512" y1="0" y2="0"><stop offset="0.000" stop-color="#7ee8a7"/><stop offset="0.547" stop-color="#83e8a4"/><stop offset="0.665" stop-color="#87e8a1"/><stop offset="0.756" stop-color="#6ce7b3"/><stop offset="0.802" stop-color="#7ae8a9"/><stop offset="0.875" stop-color="#96e594"/><stop offset="0.920" stop-color="#94c879"/><stop offset="0.929" stop-color="#9cca77"/><stop offset="0.948" stop-color="#c7d56f"/><stop offset="0.966" stop-color="#ead75b"/><stop offset="0.975" stop-color="#edd854"/><stop offset="1.002" stop-color="#ede15c"/></linearGradient><linearGradient id="g47" gradientUnits="userSpaceOnUse" x1="73" x2="512" y1="0" y2="0"><stop offset="0.000" stop-color="#77e8ab"/><stop offset="0.538" stop-color="#7ce8a9"/><stop offset="0.665" stop-color="#81e8a5"/><stop offset="0.756" stop-color="#69e7b5"/><stop offset="0.802" stop-color="#76e8ac"/><stop offset="0.875" stop-color="#8fe296"/><stop offset="0.902" stop-color="#8dcf83"/><stop offset="0.920" stop-color="#8dc377"/><stop offset="0.929" stop-color="#94c475"/><stop offset="0.938" stop-color="#a6cb74"/><stop offset="0.957" stop-color="#d6d769"/><stop offset="0.966" stop-color="#e8d85f"/><stop offset="0.984" stop-color="#ebdc5e"/><stop offset="1.002" stop-color="#ebe163"/></linearGradient><linearGradient id="g48" gradientUnits="userSpaceOnUse" x1="73" x2="512" y1="0" y2="0"><stop offset="0.000" stop-color="#71e8b0"/><stop offset="0.528" stop-color="#75e8ad"/><stop offset="0.665" stop-color="#7ce8a8"/><stop offset="0.756" stop-color="#67e6b7"/><stop offset="0.820" stop-color="#79e6a8"/><stop offset="0.875" stop-color="#86dc95"/><stop offset="0.920" stop-color="#86bd75"/><stop offset="0.929" stop-color="#8ebf73"/><stop offset="0.938" stop-color="#9dc773"/><stop offset="0.957" stop-color="#d1d66b"/><stop offset="0.966" stop-color="#e5d962"/><stop offset="1.002" stop-color="#e7e169"/></linearGradient><linearGradient id="g49" gradientUnits="userSpaceOnUse" x1="73" x2="512" y1="0" y2="0"><stop offset="0.000" stop-color="#6ce7b3"/><stop offset="0.519" stop-color="#70e8b0"/><stop offset="0.665" stop-color="#79e8aa"/><stop offset="0.756" stop-color="#67e6b7"/><stop offset="0.820" stop-color="#77e5a9"/><stop offset="0.884" stop-color="#7bca88"/><stop offset="0.920" stop-color="#80b772"/><stop offset="0.929" stop-color="#89ba71"/><stop offset="0.938" stop-color="#98c372"/><stop offset="0.957" stop-color="#ced56b"/><stop offset="0.966" stop-color="#e1d965"/><stop offset="1.002" stop-color="#e4e26c"/></linearGradient><linearGradient id="g50" gradientUnits="userSpaceOnUse" x1="73" x2="512" y1="0" y2="0"><stop offset="0.000" stop-color="#68e6b6"/><stop offset="0.519" stop-color="#6ce7b3"/><stop offset="0.674" stop-color="#75e8ad"/><stop offset="0.756" stop-color="#67e6b7"/><stop offset="0.811" stop-color="#72e6ad"/><stop offset="0.847" stop-color="#73d398"/><stop offset="0.893" stop-color="#70b479"/><stop offset="0.920" stop-color="#7cb370"/><stop offset="0.938" stop-color="#94c071"/><stop offset="0.957" stop-color="#ccd46c"/><stop offset="0.966" stop-color="#dcda68"/><stop offset="1.002" stop-color="#e1e26e"/></linearGradient><linearGradient id="g51" gradientUnits="userSpaceOnUse" x1="73" x2="512" y1="0" y2="0"><stop offset="0.000" stop-color="#64e5b9"/><stop offset="0.510" stop-color="#67e6b6"/><stop offset="0.674" stop-color="#72e8af"/><stop offset="0.765" stop-color="#67e6b7"/><stop offset="0.820" stop-color="#71e3aa"/><stop offset="0.856" stop-color="#6ac48d"/><stop offset="0.884" stop-color="#65ac77"/><stop offset="0.911" stop-color="#74b071"/><stop offset="0.929" stop-color="#84b771"/><stop offset="0.938" stop-color="#92c072"/><stop offset="0.957" stop-color="#cad46c"/><stop offset="0.966" stop-color="#d8da6b"/><stop offset="1.002" stop-color="#dde371"/></linearGradient><linearGradient id="g52" gradientUnits="userSpaceOnUse" x1="73" x2="512" y1="0" y2="0"><stop offset="0.000" stop-color="#60e5bc"/><stop offset="0.510" stop-color="#63e5b9"/><stop offset="0.683" stop-color="#6ee8b1"/><stop offset="0.765" stop-color="#66e6b7"/><stop offset="0.820" stop-color="#6fe4ac"/><stop offset="0.847" stop-color="#6acd97"/><stop offset="0.875" stop-color="#61af7d"/><stop offset="0.893" stop-color="#66ac76"/><stop offset="0.929" stop-color="#85bb73"/><stop offset="0.938" stop-color="#93c173"/><stop offset="0.957" stop-color="#c9d46d"/><stop offset="0.966" stop-color="#d4db6e"/><stop offset="1.002" stop-color="#dae374"/></linearGradient><linearGradient id="g53" gradientUnits="userSpaceOnUse" x1="73" x2="512" y1="0" y2="0"><stop offset="0.000" stop-color="#5ce4bf"/><stop offset="0.501" stop-color="#5ee4bd"/><stop offset="0.683" stop-color="#6be7b3"/><stop offset="0.774" stop-color="#66e6b7"/><stop offset="0.820" stop-color="#6de5af"/><stop offset="0.847" stop-color="#6ad39d"/><stop offset="0.875" stop-color="#64b985"/><stop offset="0.893" stop-color="#6bb981"/><stop offset="0.920" stop-color="#81c07b"/><stop offset="0.938" stop-color="#94c576"/><stop offset="0.948" stop-color="#abcc73"/><stop offset="0.957" stop-color="#c9d46d"/><stop offset="0.975" stop-color="#d5e073"/><stop offset="1.002" stop-color="#d6e476"/></linearGradient><linearGradient id="g54" gradientUnits="userSpaceOnUse" x1="73" x2="512" y1="0" y2="0"><stop offset="0.000" stop-color="#58e3c1"/><stop offset="0.501" stop-color="#5ae3c0"/><stop offset="0.692" stop-color="#68e6b6"/><stop offset="0.784" stop-color="#66e6b7"/><stop offset="0.829" stop-color="#6ce4af"/><stop offset="0.875" stop-color="#6aca93"/><stop offset="0.911" stop-color="#80cc88"/><stop offset="0.938" stop-color="#97c979"/><stop offset="0.957" stop-color="#c8d570"/><stop offset="0.984" stop-color="#d3e377"/><stop offset="1.002" stop-color="#d2e479"/></linearGradient><linearGradient id="g55" gradientUnits="userSpaceOnUse" x1="73" x2="512" y1="0" y2="0"><stop offset="0.000" stop-color="#54e2c4"/><stop offset="0.492" stop-color="#56e2c3"/><stop offset="0.692" stop-color="#65e6b8"/><stop offset="0.793" stop-color="#65e6b8"/><stop offset="0.847" stop-color="#6be1ac"/><stop offset="0.884" stop-color="#73d89d"/><stop offset="0.911" stop-color="#84d68f"/><stop offset="0.938" stop-color="#99ce7c"/><stop offset="0.957" stop-color="#c5d773"/><stop offset="0.984" stop-color="#cde37a"/><stop offset="1.002" stop-color="#cde47b"/></linearGradient><linearGradient id="g56" gradientUnits="userSpaceOnUse" x1="73" x2="512" y1="0" y2="0"><stop offset="0.000" stop-color="#50e1c6"/><stop offset="0.492" stop-color="#52e1c5"/><stop offset="0.702" stop-color="#62e5ba"/><stop offset="0.802" stop-color="#64e5b9"/><stop offset="0.875" stop-color="#71e2a9"/><stop offset="0.902" stop-color="#80e09c"/><stop offset="0.938" stop-color="#9dd37f"/><stop offset="0.957" stop-color="#c2d976"/><stop offset="0.993" stop-color="#c9e47d"/><stop offset="1.002" stop-color="#c8e57d"/></linearGradient><linearGradient id="g57" gradientUnits="userSpaceOnUse" x1="73" x2="512" y1="0" y2="0"><stop offset="0.000" stop-color="#4ce0c8"/><stop offset="0.492" stop-color="#4ee0c7"/><stop offset="0.711" stop-color="#5ee4bd"/><stop offset="0.820" stop-color="#63e5b9"/><stop offset="0.875" stop-color="#70e6ae"/><stop offset="0.911" stop-color="#85e09a"/><stop offset="0.938" stop-color="#9ed783"/><stop offset="0.948" stop-color="#b0d87c"/><stop offset="0.957" stop-color="#bbdc7b"/><stop offset="0.993" stop-color="#bfe581"/><stop offset="1.002" stop-color="#bfe581"/></linearGradient><linearGradient id="g58" gradientUnits="userSpaceOnUse" x1="73" x2="512" y1="0" y2="0"><stop offset="0.000" stop-color="#48dfc9"/><stop offset="0.483" stop-color="#49dfc9"/><stop offset="0.720" stop-color="#5be3bf"/><stop offset="0.838" stop-color="#62e5ba"/><stop offset="0.884" stop-color="#71e7af"/><stop offset="0.911" stop-color="#83e39e"/><stop offset="0.938" stop-color="#9edc87"/><stop offset="0.948" stop-color="#aedc7f"/><stop offset="0.984" stop-color="#b6e584"/><stop offset="1.002" stop-color="#b6e685"/></linearGradient><linearGradient id="g59" gradientUnits="userSpaceOnUse" x1="73" x2="512" y1="0" y2="0"><stop offset="0.000" stop-color="#45decb"/><stop offset="0.483" stop-color="#45decb"/><stop offset="0.729" stop-color="#57e3c2"/><stop offset="0.847" stop-color="#60e5bb"/><stop offset="0.893" stop-color="#73e7ae"/><stop offset="0.929" stop-color="#94e191"/><stop offset="0.948" stop-color="#abdf84"/><stop offset="1.002" stop-color="#aee689"/></linearGradient><linearGradient id="g60" gradientUnits="userSpaceOnUse" x1="73" x2="512" y1="0" y2="0"><stop offset="0.000" stop-color="#41ddcd"/><stop offset="0.483" stop-color="#41ddcd"/><stop offset="0.738" stop-color="#54e2c4"/><stop offset="0.847" stop-color="#5ce4be"/><stop offset="0.893" stop-color="#6fe7b0"/><stop offset="0.920" stop-color="#87e59d"/><stop offset="0.948" stop-color="#a7e188"/><stop offset="1.002" stop-color="#a9e78c"/></linearGradient><linearGradient id="g61" gradientUnits="userSpaceOnUse" x1="73" x2="512" y1="0" y2="0"><stop offset="0.000" stop-color="#3ddccf"/><stop offset="0.483" stop-color="#3ddccf"/><stop offset="0.756" stop-color="#50e1c6"/><stop offset="0.856" stop-color="#5ae3bf"/><stop offset="0.902" stop-color="#72e7ae"/><stop offset="0.929" stop-color="#90e598"/><stop offset="0.948" stop-color="#a3e48c"/><stop offset="1.002" stop-color="#a4e78f"/></linearGradient><linearGradient id="g62" gradientUnits="userSpaceOnUse" x1="73" x2="512" y1="0" y2="0"><stop offset="0.000" stop-color="#3adbd0"/><stop offset="0.246" stop-color="#37dad1"/><stop offset="0.528" stop-color="#3bdbd0"/><stop offset="0.765" stop-color="#4ce0c8"/><stop offset="0.856" stop-color="#56e2c2"/><stop offset="0.893" stop-color="#67e6b6"/><stop offset="0.920" stop-color="#80e7a4"/><stop offset="0.938" stop-color="#9ae692"/><stop offset="0.966" stop-color="#9fe691"/><stop offset="1.002" stop-color="#9fe792"/></linearGradient><linearGradient id="g63" gradientUnits="userSpaceOnUse" x1="73" x2="512" y1="0" y2="0"><stop offset="0.000" stop-color="#36dad2"/><stop offset="0.510" stop-color="#35dad2"/><stop offset="0.838" stop-color="#4de0c7"/><stop offset="0.884" stop-color="#5de4be"/><stop offset="0.911" stop-color="#72e8ae"/><stop offset="0.938" stop-color="#98e795"/><stop offset="1.002" stop-color="#99e895"/></linearGradient><linearGradient id="g64" gradientUnits="userSpaceOnUse" x1="73" x2="512" y1="0" y2="0"><stop offset="0.000" stop-color="#33d8d5"/><stop offset="0.519" stop-color="#32d8d5"/><stop offset="0.838" stop-color="#47dfca"/><stop offset="0.884" stop-color="#58e3c1"/><stop offset="0.911" stop-color="#6ee7b1"/><stop offset="0.938" stop-color="#95e797"/><stop offset="1.002" stop-color="#93e899"/></linearGradient><linearGradient id="g65" gradientUnits="userSpaceOnUse" x1="73" x2="512" y1="0" y2="0"><stop offset="0.000" stop-color="#30d7d7"/><stop offset="0.273" stop-color="#2dd6da"/><stop offset="0.592" stop-color="#32d8d5"/><stop offset="0.838" stop-color="#42ddcc"/><stop offset="0.884" stop-color="#54e2c4"/><stop offset="0.911" stop-color="#6ae7b4"/><stop offset="0.938" stop-color="#8ee89c"/><stop offset="1.002" stop-color="#8ce89e"/></linearGradient><linearGradient id="g66" gradientUnits="userSpaceOnUse" x1="73" x2="512" y1="0" y2="0"><stop offset="0.000" stop-color="#2cd6da"/><stop offset="0.219" stop-color="#2bd5db"/><stop offset="0.556" stop-color="#2dd6da"/><stop offset="0.829" stop-color="#3bdbd0"/><stop offset="0.875" stop-color="#4adfc9"/><stop offset="0.902" stop-color="#5de4be"/><stop offset="0.938" stop-color="#87e8a1"/><stop offset="1.002" stop-color="#84e8a3"/></linearGradient><linearGradient id="g67" gradientUnits="userSpaceOnUse" x1="73" x2="512" y1="0" y2="0"><stop offset="0.000" stop-color="#29d4dc"/><stop offset="0.200" stop-color="#28d4dd"/><stop offset="0.547" stop-color="#28d4dd"/><stop offset="0.838" stop-color="#37dad1"/><stop offset="0.884" stop-color="#4adfc9"/><stop offset="0.911" stop-color="#62e5ba"/><stop offset="0.929" stop-color="#7be8a9"/><stop offset="0.948" stop-color="#7fe8a6"/><stop offset="1.002" stop-color="#7de8a7"/></linearGradient><linearGradient id="g68" gradientUnits="userSpaceOnUse" x1="73" x2="512" y1="0" y2="0"><stop offset="0.000" stop-color="#26d3df"/><stop offset="0.182" stop-color="#26d3df"/><stop offset="0.519" stop-color="#24d2e1"/><stop offset="0.838" stop-color="#33d9d4"/><stop offset="0.884" stop-color="#45decb"/><stop offset="0.911" stop-color="#5ee4bd"/><stop offset="0.929" stop-color="#77e8ab"/><stop offset="1.002" stop-color="#76e8ac"/></linearGradient><linearGradient id="g69" gradientUnits="userSpaceOnUse" x1="73" x2="512" y1="0" y2="0"><stop offset="0.000" stop-color="#24d2e1"/><stop offset="0.173" stop-color="#24d2e1"/><stop offset="0.510" stop-color="#21d0e4"/><stop offset="0.829" stop-color="#2ed6d8"/><stop offset="0.875" stop-color="#3cdbcf"/><stop offset="0.911" stop-color="#5ae3bf"/><stop offset="0.929" stop-color="#72e8af"/><stop offset="1.002" stop-color="#70e8b0"/></linearGradient><linearGradient id="g70" gradientUnits="userSpaceOnUse" x1="73" x2="512" y1="0" y2="0"><stop offset="0.000" stop-color="#22d1e2"/><stop offset="0.173" stop-color="#22d1e2"/><stop offset="0.565" stop-color="#20d0e4"/><stop offset="0.829" stop-color="#2bd5db"/><stop offset="0.875" stop-color="#38dad1"/><stop offset="0.911" stop-color="#57e3c2"/><stop offset="0.929" stop-color="#6be7b4"/><stop offset="1.002" stop-color="#69e7b5"/></linearGradient><linearGradient id="g71" gradientUnits="userSpaceOnUse" x1="73" x2="512" y1="0" y2="0"><stop offset="0.000" stop-color="#20d0e4"/><stop offset="0.164" stop-color="#21d0e4"/><stop offset="0.574" stop-color="#1ecfe6"/><stop offset="0.829" stop-color="#28d4dd"/><stop offset="0.884" stop-color="#39dbd0"/><stop offset="0.911" stop-color="#53e2c5"/><stop offset="0.929" stop-color="#64e5b9"/><stop offset="1.002" stop-color="#62e5ba"/></linearGradient><linearGradient id="g72" gradientUnits="userSpaceOnUse" x1="73" x2="512" y1="0" y2="0"><stop offset="0.000" stop-color="#1fcfe5"/><stop offset="0.182" stop-color="#1ecfe6"/><stop offset="0.629" stop-color="#1ecee6"/><stop offset="0.829" stop-color="#25d2e0"/><stop offset="0.884" stop-color="#36dad2"/><stop offset="0.911" stop-color="#4fe1c6"/><stop offset="0.920" stop-color="#5ae3bf"/><stop offset="1.002" stop-color="#5ce4be"/></linearGradient><linearGradient id="g73" gradientUnits="userSpaceOnUse" x1="73" x2="512" y1="0" y2="0"><stop offset="0.000" stop-color="#1ecee6"/><stop offset="0.219" stop-color="#1ccde8"/><stop offset="0.765" stop-color="#1ecfe6"/><stop offset="0.847" stop-color="#26d3df"/><stop offset="0.893" stop-color="#38dbd1"/><stop offset="0.920" stop-color="#56e3c2"/><stop offset="1.002" stop-color="#55e2c3"/></linearGradient><linearGradient id="g74" gradientUnits="userSpaceOnUse" x1="73" x2="512" y1="0" y2="0"><stop offset="0.000" stop-color="#1dcee7"/><stop offset="0.200" stop-color="#1bcde9"/><stop offset="0.674" stop-color="#1ccde9"/><stop offset="0.838" stop-color="#21d1e3"/><stop offset="0.893" stop-color="#35d9d3"/><stop offset="0.920" stop-color="#4fe1c6"/><stop offset="1.002" stop-color="#4ee0c7"/></linearGradient><linearGradient id="g75" gradientUnits="userSpaceOnUse" x1="73" x2="512" y1="0" y2="0"><stop offset="0.000" stop-color="#1bcde9"/><stop offset="0.191" stop-color="#1accea"/><stop offset="0.665" stop-color="#19cbeb"/><stop offset="0.692" stop-color="#1bcceb"/><stop offset="0.847" stop-color="#20d0e4"/><stop offset="0.893" stop-color="#31d8d6"/><stop offset="0.920" stop-color="#48dfca"/><stop offset="1.002" stop-color="#47deca"/></linearGradient><linearGradient id="g76" gradientUnits="userSpaceOnUse" x1="73" x2="512" y1="0" y2="0"><stop offset="0.000" stop-color="#1accea"/><stop offset="0.191" stop-color="#19cbeb"/><stop offset="0.665" stop-color="#17caed"/><stop offset="0.683" stop-color="#1fcced"/><stop offset="0.711" stop-color="#18caec"/><stop offset="0.856" stop-color="#20d0e4"/><stop offset="0.902" stop-color="#34d9d4"/><stop offset="0.920" stop-color="#41ddcd"/><stop offset="1.002" stop-color="#40ddcd"/></linearGradient><linearGradient id="g77" gradientUnits="userSpaceOnUse" x1="73" x2="512" y1="0" y2="0"><stop offset="0.000" stop-color="#19cbeb"/><stop offset="0.182" stop-color="#18caec"/><stop offset="0.629" stop-color="#15c8ef"/><stop offset="0.665" stop-color="#16c9ef"/><stop offset="0.683" stop-color="#23ccef"/><stop offset="0.702" stop-color="#16c9ee"/><stop offset="0.856" stop-color="#1ecee6"/><stop offset="0.902" stop-color="#30d7d7"/><stop offset="0.920" stop-color="#3adbd0"/><stop offset="1.002" stop-color="#39dbd0"/></linearGradient><linearGradient id="g78" gradientUnits="userSpaceOnUse" x1="73" x2="512" y1="0" y2="0"><stop offset="0.000" stop-color="#17caed"/><stop offset="0.182" stop-color="#17c9ed"/><stop offset="0.620" stop-color="#13c7f1"/><stop offset="0.665" stop-color="#14c7f0"/><stop offset="0.683" stop-color="#28ccf1"/><stop offset="0.702" stop-color="#15c8f0"/><stop offset="0.856" stop-color="#1ccde8"/><stop offset="0.893" stop-color="#27d3de"/><stop offset="0.911" stop-color="#33d9d4"/><stop offset="1.002" stop-color="#33d9d4"/></linearGradient><linearGradient id="g79" gradientUnits="userSpaceOnUse" x1="73" x2="512" y1="0" y2="0"><stop offset="0.000" stop-color="#16c9ee"/><stop offset="0.173" stop-color="#16c9ee"/><stop offset="0.656" stop-color="#12c6f2"/><stop offset="0.665" stop-color="#13c6f2"/><stop offset="0.683" stop-color="#2cccf3"/><stop offset="0.702" stop-color="#13c6f2"/><stop offset="0.729" stop-color="#18c8f2"/><stop offset="0.747" stop-color="#13c7f1"/><stop offset="0.866" stop-color="#1bcde9"/><stop offset="0.902" stop-color="#29d4dc"/><stop offset="0.920" stop-color="#2fd7d8"/><stop offset="1.002" stop-color="#2fd7d8"/></linearGradient><linearGradient id="g80" gradientUnits="userSpaceOnUse" x1="73" x2="512" y1="0" y2="0"><stop offset="0.000" stop-color="#14c8f0"/><stop offset="0.173" stop-color="#14c8f0"/><stop offset="0.665" stop-color="#13c5f3"/><stop offset="0.683" stop-color="#2eccf4"/><stop offset="0.702" stop-color="#13c5f2"/><stop offset="0.711" stop-color="#13c5f2"/><stop offset="0.720" stop-color="#1cc7f3"/><stop offset="0.729" stop-color="#1cc7f3"/><stop offset="0.738" stop-color="#13c5f2"/><stop offset="0.829" stop-color="#15c8ef"/><stop offset="0.893" stop-color="#21d0e3"/><stop offset="0.911" stop-color="#2ad5dc"/><stop offset="1.002" stop-color="#2ad4dc"/></linearGradient><linearGradient id="g81" gradientUnits="userSpaceOnUse" x1="73" x2="512" y1="0" y2="0"><stop offset="0.000" stop-color="#13c7f1"/><stop offset="0.173" stop-color="#13c7f1"/><stop offset="0.656" stop-color="#12c3f3"/><stop offset="0.665" stop-color="#12c3f3"/><stop offset="0.683" stop-color="#2ccaf4"/><stop offset="0.702" stop-color="#12c3f3"/><stop offset="0.711" stop-color="#13c4f3"/><stop offset="0.720" stop-color="#21c7f4"/><stop offset="0.729" stop-color="#21c7f3"/><stop offset="0.738" stop-color="#13c3f2"/><stop offset="0.774" stop-color="#11bae6"/><stop offset="0.811" stop-color="#12c5f2"/><stop offset="0.893" stop-color="#1ecfe6"/><stop offset="0.920" stop-color="#25d2e0"/><stop offset="1.002" stop-color="#25d2e0"/></linearGradient><linearGradient id="g82" gradientUnits="userSpaceOnUse" x1="73" x2="512" y1="0" y2="0"><stop offset="0.000" stop-color="#12c6f2"/><stop offset="0.210" stop-color="#12c4f3"/><stop offset="0.665" stop-color="#12c2f3"/><stop offset="0.683" stop-color="#26c7f4"/><stop offset="0.702" stop-color="#12c2f3"/><stop offset="0.711" stop-color="#13c2f3"/><stop offset="0.720" stop-color="#27c7f4"/><stop offset="0.729" stop-color="#27c7f4"/><stop offset="0.738" stop-color="#13c0f0"/><stop offset="0.765" stop-color="#0facd7"/><stop offset="0.774" stop-color="#0fadd8"/><stop offset="0.802" stop-color="#11c1f0"/><stop offset="0.866" stop-color="#16c9ee"/><stop offset="0.920" stop-color="#20d0e4"/><stop offset="1.002" stop-color="#20d0e4"/></linearGradient><linearGradient id="g83" gradientUnits="userSpaceOnUse" x1="73" x2="512" y1="0" y2="0"><stop offset="0.000" stop-color="#12c4f3"/><stop offset="0.191" stop-color="#12c3f3"/><stop offset="0.665" stop-color="#11c0f4"/><stop offset="0.683" stop-color="#1fc4f5"/><stop offset="0.702" stop-color="#11c1f4"/><stop offset="0.711" stop-color="#13c1f4"/><stop offset="0.720" stop-color="#2dc7f5"/><stop offset="0.729" stop-color="#2cc6f3"/><stop offset="0.738" stop-color="#13bbed"/><stop offset="0.756" stop-color="#0fa7d3"/><stop offset="0.765" stop-color="#0ea2cd"/><stop offset="0.774" stop-color="#0fa8d3"/><stop offset="0.793" stop-color="#11bcec"/><stop offset="0.820" stop-color="#12c3f3"/><stop offset="0.884" stop-color="#17caed"/><stop offset="0.920" stop-color="#1dcee7"/><stop offset="1.002" stop-color="#1dcee7"/></linearGradient><linearGradient id="g84" gradientUnits="userSpaceOnUse" x1="73" x2="512" y1="0" y2="0"><stop offset="0.000" stop-color="#12c3f3"/><stop offset="0.182" stop-color="#11c2f3"/><stop offset="0.665" stop-color="#11bff4"/><stop offset="0.683" stop-color="#19c1f5"/><stop offset="0.702" stop-color="#11bff4"/><stop offset="0.711" stop-color="#13c0f4"/><stop offset="0.720" stop-color="#30c7f5"/><stop offset="0.729" stop-color="#2fc6f3"/><stop offset="0.738" stop-color="#13b9ec"/><stop offset="0.756" stop-color="#0faad9"/><stop offset="0.765" stop-color="#0fa9d8"/><stop offset="0.793" stop-color="#11bef0"/><stop offset="0.866" stop-color="#12c6f2"/><stop offset="0.920" stop-color="#1accea"/><stop offset="1.002" stop-color="#1accea"/></linearGradient><linearGradient id="g85" gradientUnits="userSpaceOnUse" x1="73" x2="512" y1="0" y2="0"><stop offset="0.000" stop-color="#11c2f3"/><stop offset="0.182" stop-color="#11c1f4"/><stop offset="0.674" stop-color="#12bef5"/><stop offset="0.711" stop-color="#13bef5"/><stop offset="0.720" stop-color="#2fc6f6"/><stop offset="0.729" stop-color="#2fc5f4"/><stop offset="0.738" stop-color="#13baf0"/><stop offset="0.756" stop-color="#10b4e8"/><stop offset="0.802" stop-color="#11bff4"/><stop offset="0.893" stop-color="#16c9ee"/><stop offset="1.002" stop-color="#17c9ed"/></linearGradient><linearGradient id="g86" gradientUnits="userSpaceOnUse" x1="73" x2="512" y1="0" y2="0"><stop offset="0.000" stop-color="#11c0f4"/><stop offset="0.191" stop-color="#11bff4"/><stop offset="0.711" stop-color="#12bdf5"/><stop offset="0.720" stop-color="#2cc4f6"/><stop offset="0.729" stop-color="#2cc3f6"/><stop offset="0.738" stop-color="#12bcf4"/><stop offset="0.884" stop-color="#12c5f2"/><stop offset="1.002" stop-color="#13c7f1"/></linearGradient><linearGradient id="g87" gradientUnits="userSpaceOnUse" x1="73" x2="512" y1="0" y2="0"><stop offset="0.000" stop-color="#11bef5"/><stop offset="0.191" stop-color="#11bdf5"/><stop offset="0.711" stop-color="#12bbf6"/><stop offset="0.720" stop-color="#26c1f7"/><stop offset="0.729" stop-color="#26c1f7"/><stop offset="0.738" stop-color="#12bbf6"/><stop offset="0.884" stop-color="#11c3f3"/><stop offset="1.002" stop-color="#12c4f3"/></linearGradient><linearGradient id="g88" gradientUnits="userSpaceOnUse" x1="73" x2="512" y1="0" y2="0"><stop offset="0.000" stop-color="#10bcf5"/><stop offset="0.191" stop-color="#10bbf6"/><stop offset="0.702" stop-color="#10b8f6"/><stop offset="0.711" stop-color="#12b8f6"/><stop offset="0.720" stop-color="#20bdf6"/><stop offset="0.729" stop-color="#20bdf6"/><stop offset="0.738" stop-color="#12b9f6"/><stop offset="0.975" stop-color="#11c1f4"/><stop offset="1.002" stop-color="#11c1f4"/></linearGradient><linearGradient id="g89" gradientUnits="userSpaceOnUse" x1="73" x2="512" y1="0" y2="0"><stop offset="0.000" stop-color="#10bbf6"/><stop offset="0.191" stop-color="#10b9f6"/><stop offset="0.665" stop-color="#11b6f5"/><stop offset="0.711" stop-color="#12b6f5"/><stop offset="0.720" stop-color="#1bb9f6"/><stop offset="0.729" stop-color="#1bb9f6"/><stop offset="0.738" stop-color="#12b6f5"/><stop offset="0.984" stop-color="#11bef5"/><stop offset="1.002" stop-color="#11bef5"/></linearGradient><linearGradient id="g90" gradientUnits="userSpaceOnUse" x1="73" x2="512" y1="0" y2="0"><stop offset="0.000" stop-color="#10b8f6"/><stop offset="0.173" stop-color="#10b8f6"/><stop offset="0.538" stop-color="#12b3f4"/><stop offset="0.711" stop-color="#12b4f5"/><stop offset="0.729" stop-color="#17b6f5"/><stop offset="0.747" stop-color="#11b4f5"/><stop offset="0.975" stop-color="#10bbf6"/><stop offset="1.002" stop-color="#10bbf6"/></linearGradient><linearGradient id="g91" gradientUnits="userSpaceOnUse" x1="73" x2="512" y1="0" y2="0"><stop offset="0.000" stop-color="#11b6f5"/><stop offset="0.173" stop-color="#11b6f5"/><stop offset="0.547" stop-color="#12b1f4"/><stop offset="0.774" stop-color="#12b2f4"/><stop offset="0.984" stop-color="#10b8f6"/><stop offset="1.002" stop-color="#10b8f6"/></linearGradient><linearGradient id="g92" gradientUnits="userSpaceOnUse" x1="73" x2="512" y1="0" y2="0"><stop offset="0.000" stop-color="#11b4f5"/><stop offset="0.173" stop-color="#11b4f5"/><stop offset="0.565" stop-color="#12aff4"/><stop offset="0.875" stop-color="#11b4f5"/><stop offset="1.002" stop-color="#11b5f5"/></linearGradient><linearGradient id="g93" gradientUnits="userSpaceOnUse" x1="73" x2="512" y1="0" y2="0"><stop offset="0.000" stop-color="#12b2f4"/><stop offset="0.182" stop-color="#12b1f4"/><stop offset="0.620" stop-color="#13aef3"/><stop offset="1.002" stop-color="#12b1f4"/></linearGradient><linearGradient id="g94" gradientUnits="userSpaceOnUse" x1="73" x2="512" y1="0" y2="0"><stop offset="0.000" stop-color="#12aff4"/><stop offset="0.182" stop-color="#13aff3"/><stop offset="0.620" stop-color="#13acf3"/><stop offset="1.002" stop-color="#13aef3"/></linearGradient><linearGradient id="g95" gradientUnits="userSpaceOnUse" x1="73" x2="512" y1="0" y2="0"><stop offset="0.000" stop-color="#13adf3"/><stop offset="0.191" stop-color="#13acf3"/><stop offset="0.847" stop-color="#14aaf2"/><stop offset="1.002" stop-color="#13abf3"/></linearGradient><linearGradient id="g96" gradientUnits="userSpaceOnUse" x1="73" x2="512" y1="0" y2="0"><stop offset="0.000" stop-color="#13abf3"/><stop offset="0.200" stop-color="#14a9f2"/><stop offset="1.002" stop-color="#14a8f2"/></linearGradient><linearGradient id="g97" gradientUnits="userSpaceOnUse" x1="73" x2="512" y1="0" y2="0"><stop offset="0.000" stop-color="#14a8f2"/><stop offset="0.210" stop-color="#14a7f2"/><stop offset="1.002" stop-color="#15a4f2"/></linearGradient><linearGradient id="g98" gradientUnits="userSpaceOnUse" x1="73" x2="512" y1="0" y2="0"><stop offset="0.000" stop-color="#14a6f2"/><stop offset="0.228" stop-color="#15a4f2"/><stop offset="0.820" stop-color="#15a2f1"/><stop offset="1.002" stop-color="#15a2f1"/></linearGradient><linearGradient id="g99" gradientUnits="userSpaceOnUse" x1="73" x2="512" y1="0" y2="0"><stop offset="0.000" stop-color="#15a4f2"/><stop offset="0.583" stop-color="#15a2f1"/><stop offset="0.820" stop-color="#15a0f0"/><stop offset="1.002" stop-color="#16a0f1"/></linearGradient><linearGradient id="g100" gradientUnits="userSpaceOnUse" x1="73" x2="512" y1="0" y2="0"><stop offset="0.000" stop-color="#15a2f1"/><stop offset="0.574" stop-color="#16a1f1"/><stop offset="0.793" stop-color="#169ff1"/><stop offset="0.838" stop-color="#159aea"/><stop offset="0.893" stop-color="#169ef1"/><stop offset="1.002" stop-color="#169ef1"/></linearGradient><linearGradient id="g101" gradientUnits="userSpaceOnUse" x1="73" x2="512" y1="0" y2="0"><stop offset="0.000" stop-color="#16a0f1"/><stop offset="0.565" stop-color="#169ff1"/><stop offset="0.756" stop-color="#169ff1"/><stop offset="0.802" stop-color="#169cef"/><stop offset="0.829" stop-color="#1596e6"/><stop offset="0.875" stop-color="#179cf1"/><stop offset="1.002" stop-color="#179cf1"/></linearGradient><linearGradient id="g102" gradientUnits="userSpaceOnUse" x1="73" x2="512" y1="0" y2="0"><stop offset="0.000" stop-color="#169df1"/><stop offset="0.565" stop-color="#169ef1"/><stop offset="0.738" stop-color="#169ff1"/><stop offset="0.793" stop-color="#169bef"/><stop offset="0.820" stop-color="#1591e0"/><stop offset="0.856" stop-color="#179af0"/><stop offset="1.002" stop-color="#179bf1"/></linearGradient><linearGradient id="g103" gradientUnits="userSpaceOnUse" x1="73" x2="512" y1="0" y2="0"><stop offset="0.000" stop-color="#179bf1"/><stop offset="0.556" stop-color="#179cf1"/><stop offset="0.720" stop-color="#169ff1"/><stop offset="0.784" stop-color="#179aef"/><stop offset="0.811" stop-color="#158ddc"/><stop offset="0.820" stop-color="#158cda"/><stop offset="0.847" stop-color="#1798ee"/><stop offset="1.002" stop-color="#1799f0"/></linearGradient><linearGradient id="g104" gradientUnits="userSpaceOnUse" x1="73" x2="512" y1="0" y2="0"><stop offset="0.000" stop-color="#1799f0"/><stop offset="0.547" stop-color="#179af0"/><stop offset="0.711" stop-color="#169ef1"/><stop offset="0.774" stop-color="#179aef"/><stop offset="0.793" stop-color="#1691e4"/><stop offset="0.811" stop-color="#1587d4"/><stop offset="0.838" stop-color="#1795ec"/><stop offset="0.893" stop-color="#1897f0"/><stop offset="1.002" stop-color="#1897f0"/></linearGradient><linearGradient id="g105" gradientUnits="userSpaceOnUse" x1="73" x2="512" y1="0" y2="0"><stop offset="0.000" stop-color="#1897f0"/><stop offset="0.538" stop-color="#1898f0"/><stop offset="0.702" stop-color="#169ef1"/><stop offset="0.774" stop-color="#1797ed"/><stop offset="0.802" stop-color="#1584d1"/><stop offset="0.811" stop-color="#1584d2"/><stop offset="0.829" stop-color="#1791e8"/><stop offset="0.847" stop-color="#1895f0"/><stop offset="1.002" stop-color="#1895f0"/></linearGradient><linearGradient id="g106" gradientUnits="userSpaceOnUse" x1="73" x2="512" y1="0" y2="0"><stop offset="0.000" stop-color="#1895f0"/><stop offset="0.519" stop-color="#1895f0"/><stop offset="0.692" stop-color="#169df1"/><stop offset="0.765" stop-color="#1797ee"/><stop offset="0.784" stop-color="#168cde"/><stop offset="0.793" stop-color="#1584d2"/><stop offset="0.802" stop-color="#1581cf"/><stop offset="0.829" stop-color="#1892ec"/><stop offset="0.938" stop-color="#1892ef"/><stop offset="1.002" stop-color="#1892ef"/></linearGradient><linearGradient id="g107" gradientUnits="userSpaceOnUse" x1="73" x2="512" y1="0" y2="0"><stop offset="0.000" stop-color="#1892ef"/><stop offset="0.519" stop-color="#1893ef"/><stop offset="0.683" stop-color="#169df1"/><stop offset="0.756" stop-color="#1897ef"/><stop offset="0.774" stop-color="#178ee3"/><stop offset="0.793" stop-color="#1580d0"/><stop offset="0.802" stop-color="#1583d4"/><stop offset="0.820" stop-color="#188fe9"/><stop offset="0.856" stop-color="#1890ef"/><stop offset="1.002" stop-color="#1890ee"/></linearGradient><linearGradient id="g108" gradientUnits="userSpaceOnUse" x1="73" x2="512" y1="0" y2="0"><stop offset="0.000" stop-color="#188fee"/><stop offset="0.510" stop-color="#1890ee"/><stop offset="0.683" stop-color="#179cf1"/><stop offset="0.756" stop-color="#1895ee"/><stop offset="0.784" stop-color="#1583d4"/><stop offset="0.793" stop-color="#1682d4"/><stop offset="0.820" stop-color="#188eec"/><stop offset="1.002" stop-color="#198dee"/></linearGradient><linearGradient id="g109" gradientUnits="userSpaceOnUse" x1="73" x2="512" y1="0" y2="0"><stop offset="0.000" stop-color="#198dee"/><stop offset="0.510" stop-color="#198dee"/><stop offset="0.674" stop-color="#179bf1"/><stop offset="0.747" stop-color="#1895ef"/><stop offset="0.784" stop-color="#1683d8"/><stop offset="0.811" stop-color="#188ceb"/><stop offset="1.002" stop-color="#198aed"/></linearGradient><linearGradient id="g110" gradientUnits="userSpaceOnUse" x1="73" x2="512" y1="0" y2="0"><stop offset="0.000" stop-color="#1989ed"/><stop offset="0.510" stop-color="#198aed"/><stop offset="0.674" stop-color="#179af0"/><stop offset="0.747" stop-color="#1893ed"/><stop offset="0.774" stop-color="#1786de"/><stop offset="0.811" stop-color="#198bec"/><stop offset="1.002" stop-color="#1987ec"/></linearGradient><linearGradient id="g111" gradientUnits="userSpaceOnUse" x1="73" x2="512" y1="0" y2="0"><stop offset="0.000" stop-color="#1986ec"/><stop offset="0.510" stop-color="#1987ec"/><stop offset="0.674" stop-color="#1799f0"/><stop offset="0.747" stop-color="#1890ec"/><stop offset="0.774" stop-color="#1886e3"/><stop offset="0.811" stop-color="#1988ec"/><stop offset="1.002" stop-color="#1984eb"/></linearGradient><linearGradient id="g112" gradientUnits="userSpaceOnUse" x1="73" x2="512" y1="0" y2="0"><stop offset="0.000" stop-color="#1982eb"/><stop offset="0.510" stop-color="#1984eb"/><stop offset="0.674" stop-color="#1897f0"/><stop offset="0.747" stop-color="#188deb"/><stop offset="0.774" stop-color="#1887e7"/><stop offset="0.847" stop-color="#1982eb"/><stop offset="1.002" stop-color="#1981ea"/></linearGradient><linearGradient id="g113" gradientUnits="userSpaceOnUse" x1="73" x2="512" y1="0" y2="0"><stop offset="0.000" stop-color="#1a7fea"/><stop offset="0.510" stop-color="#1980ea"/><stop offset="0.683" stop-color="#1895f0"/><stop offset="0.784" stop-color="#1985eb"/><stop offset="0.938" stop-color="#1a7de9"/><stop offset="1.002" stop-color="#1a7de9"/></linearGradient><linearGradient id="g114" gradientUnits="userSpaceOnUse" x1="73" x2="512" y1="0" y2="0"><stop offset="0.000" stop-color="#1a7be9"/><stop offset="0.510" stop-color="#1a7de9"/><stop offset="0.683" stop-color="#1893ef"/><stop offset="0.847" stop-color="#1a7be9"/><stop offset="1.002" stop-color="#1a7ae8"/></linearGradient><linearGradient id="g115" gradientUnits="userSpaceOnUse" x1="73" x2="512" y1="0" y2="0"><stop offset="0.000" stop-color="#1a77e8"/><stop offset="0.510" stop-color="#1a7ae8"/><stop offset="0.692" stop-color="#1890ee"/><stop offset="0.838" stop-color="#1a78e8"/><stop offset="1.002" stop-color="#1b77e7"/></linearGradient><linearGradient id="g116" gradientUnits="userSpaceOnUse" x1="73" x2="512" y1="0" y2="0"><stop offset="0.000" stop-color="#1c75e6"/><stop offset="0.519" stop-color="#1a77e8"/><stop offset="0.692" stop-color="#198eee"/><stop offset="0.829" stop-color="#1b76e7"/><stop offset="1.002" stop-color="#1c74e6"/></linearGradient><linearGradient id="g117" gradientUnits="userSpaceOnUse" x1="73" x2="512" y1="0" y2="0"><stop offset="0.000" stop-color="#1d72e5"/><stop offset="0.519" stop-color="#1c74e6"/><stop offset="0.692" stop-color="#198dee"/><stop offset="0.765" stop-color="#1a7eea"/><stop offset="0.847" stop-color="#1d72e5"/><stop offset="1.002" stop-color="#1e71e4"/></linearGradient><linearGradient id="g118" gradientUnits="userSpaceOnUse" x1="73" x2="512" y1="0" y2="0"><stop offset="0.000" stop-color="#1f6fe3"/><stop offset="0.519" stop-color="#1d72e5"/><stop offset="0.702" stop-color="#198bed"/><stop offset="0.820" stop-color="#1d71e5"/><stop offset="1.002" stop-color="#1f6ee3"/></linearGradient><linearGradient id="g119" gradientUnits="userSpaceOnUse" x1="73" x2="512" y1="0" y2="0"><stop offset="0.000" stop-color="#206ce2"/><stop offset="0.519" stop-color="#1f6fe3"/><stop offset="0.647" stop-color="#1982eb"/><stop offset="0.702" stop-color="#198aed"/><stop offset="0.820" stop-color="#1f6ee3"/><stop offset="1.002" stop-color="#206be2"/></linearGradient><linearGradient id="g120" gradientUnits="userSpaceOnUse" x1="73" x2="512" y1="0" y2="0"><stop offset="0.000" stop-color="#2268e0"/><stop offset="0.519" stop-color="#206ce2"/><stop offset="0.647" stop-color="#1a7fea"/><stop offset="0.702" stop-color="#1988ec"/><stop offset="0.765" stop-color="#1b76e7"/><stop offset="0.838" stop-color="#216ae1"/><stop offset="1.002" stop-color="#2268e0"/></linearGradient><linearGradient id="g121" gradientUnits="userSpaceOnUse" x1="73" x2="512" y1="0" y2="0"><stop offset="0.000" stop-color="#2465de"/><stop offset="0.510" stop-color="#2268e0"/><stop offset="0.638" stop-color="#1a7ae8"/><stop offset="0.702" stop-color="#1986ec"/><stop offset="0.756" stop-color="#1b77e7"/><stop offset="0.829" stop-color="#2367df"/><stop offset="1.002" stop-color="#2464de"/></linearGradient><linearGradient id="g122" gradientUnits="userSpaceOnUse" x1="73" x2="512" y1="0" y2="0"><stop offset="0.000" stop-color="#2561dd"/><stop offset="0.501" stop-color="#2465de"/><stop offset="0.638" stop-color="#1b77e7"/><stop offset="0.702" stop-color="#1984eb"/><stop offset="0.756" stop-color="#1c74e6"/><stop offset="0.820" stop-color="#2464de"/><stop offset="1.002" stop-color="#2661dc"/></linearGradient><linearGradient id="g123" gradientUnits="userSpaceOnUse" x1="73" x2="512" y1="0" y2="0"><stop offset="0.000" stop-color="#275edb"/><stop offset="0.492" stop-color="#2561dd"/><stop offset="0.629" stop-color="#1d73e5"/><stop offset="0.702" stop-color="#1982eb"/><stop offset="0.765" stop-color="#1f6de3"/><stop offset="0.829" stop-color="#265fdc"/><stop offset="1.002" stop-color="#275ddb"/></linearGradient><linearGradient id="g124" gradientUnits="userSpaceOnUse" x1="73" x2="512" y1="0" y2="0"><stop offset="0.000" stop-color="#295ad9"/><stop offset="0.474" stop-color="#275ddb"/><stop offset="0.620" stop-color="#1e6fe4"/><stop offset="0.702" stop-color="#197fea"/><stop offset="0.774" stop-color="#2367df"/><stop offset="0.838" stop-color="#285bda"/><stop offset="1.002" stop-color="#295ad9"/></linearGradient><linearGradient id="g125" gradientUnits="userSpaceOnUse" x1="73" x2="512" y1="0" y2="0"><stop offset="0.000" stop-color="#2b56d7"/><stop offset="0.456" stop-color="#295ad9"/><stop offset="0.620" stop-color="#1f6ee2"/><stop offset="0.702" stop-color="#1a7ce8"/><stop offset="0.811" stop-color="#295ad9"/><stop offset="1.002" stop-color="#2b56d7"/></linearGradient><linearGradient id="g126" gradientUnits="userSpaceOnUse" x1="73" x2="512" y1="0" y2="0"><stop offset="0.000" stop-color="#2d53d5"/><stop offset="0.446" stop-color="#2b56d6"/><stop offset="0.647" stop-color="#1c71e0"/><stop offset="0.702" stop-color="#1976e3"/><stop offset="0.811" stop-color="#2b56d7"/><stop offset="1.002" stop-color="#2d52d5"/></linearGradient><linearGradient id="g127" gradientUnits="userSpaceOnUse" x1="73" x2="512" y1="0" y2="0"><stop offset="0.000" stop-color="#2f4fd2"/><stop offset="0.437" stop-color="#2d52d3"/><stop offset="0.610" stop-color="#1e66d6"/><stop offset="0.702" stop-color="#1a70dc"/><stop offset="0.765" stop-color="#265ed9"/><stop offset="0.829" stop-color="#2e50d3"/><stop offset="1.002" stop-color="#2f4fd2"/></linearGradient><linearGradient id="g128" gradientUnits="userSpaceOnUse" x1="73" x2="512" y1="0" y2="0"><stop offset="0.000" stop-color="#314bd0"/><stop offset="0.428" stop-color="#2e4ed0"/><stop offset="0.538" stop-color="#255ad1"/><stop offset="0.629" stop-color="#1a61c5"/><stop offset="0.711" stop-color="#1c6ad7"/><stop offset="0.784" stop-color="#2c54d5"/><stop offset="0.866" stop-color="#314bd0"/><stop offset="1.002" stop-color="#314bd0"/></linearGradient><linearGradient id="g129" gradientUnits="userSpaceOnUse" x1="73" x2="512" y1="0" y2="0"><stop offset="0.000" stop-color="#3347ce"/><stop offset="0.428" stop-color="#2f4acc"/><stop offset="0.519" stop-color="#2554c8"/><stop offset="0.601" stop-color="#1a55b2"/><stop offset="0.647" stop-color="#185ebc"/><stop offset="0.702" stop-color="#1d67d4"/><stop offset="0.756" stop-color="#2959d6"/><stop offset="0.820" stop-color="#3249cf"/><stop offset="1.002" stop-color="#3347ce"/></linearGradient><linearGradient id="g130" gradientUnits="userSpaceOnUse" x1="73" x2="512" y1="0" y2="0"><stop offset="0.000" stop-color="#3544cc"/><stop offset="0.419" stop-color="#3146c8"/><stop offset="0.501" stop-color="#264ec1"/><stop offset="0.583" stop-color="#194ea7"/><stop offset="0.620" stop-color="#1756af"/><stop offset="0.683" stop-color="#1c66d1"/><stop offset="0.729" stop-color="#255fd8"/><stop offset="0.802" stop-color="#3348ce"/><stop offset="1.002" stop-color="#3544cc"/></linearGradient><linearGradient id="g131" gradientUnits="userSpaceOnUse" x1="73" x2="512" y1="0" y2="0"><stop offset="0.000" stop-color="#3641ca"/><stop offset="0.410" stop-color="#3342c5"/><stop offset="0.492" stop-color="#264bbc"/><stop offset="0.565" stop-color="#1b4ca9"/><stop offset="0.601" stop-color="#1956b2"/><stop offset="0.665" stop-color="#1c67d3"/><stop offset="0.711" stop-color="#2461d9"/><stop offset="0.793" stop-color="#3446cd"/><stop offset="0.975" stop-color="#3641ca"/><stop offset="1.002" stop-color="#3641ca"/></linearGradient><linearGradient id="g132" gradientUnits="userSpaceOnUse" x1="73" x2="512" y1="0" y2="0"><stop offset="0.000" stop-color="#383ec8"/><stop offset="0.410" stop-color="#3440c4"/><stop offset="0.519" stop-color="#224db8"/><stop offset="0.565" stop-color="#1e53b8"/><stop offset="0.647" stop-color="#1c6ad7"/><stop offset="0.702" stop-color="#2461da"/><stop offset="0.793" stop-color="#3642cb"/><stop offset="1.002" stop-color="#383ec8"/></linearGradient><linearGradient id="g133" gradientUnits="userSpaceOnUse" x1="73" x2="512" y1="0" y2="0"><stop offset="0.000" stop-color="#383bc5"/><stop offset="0.419" stop-color="#353fc4"/><stop offset="0.556" stop-color="#2259c8"/><stop offset="0.629" stop-color="#1d6cdc"/><stop offset="0.674" stop-color="#2167dd"/><stop offset="0.784" stop-color="#3740c9"/><stop offset="0.975" stop-color="#383bc5"/><stop offset="1.002" stop-color="#383bc5"/></linearGradient><linearGradient id="g134" gradientUnits="userSpaceOnUse" x1="73" x2="512" y1="0" y2="0"><stop offset="0.000" stop-color="#3939c2"/><stop offset="0.410" stop-color="#373cc4"/><stop offset="0.583" stop-color="#2164d9"/><stop offset="0.638" stop-color="#1f6ce0"/><stop offset="0.692" stop-color="#275dda"/><stop offset="0.774" stop-color="#383ec8"/><stop offset="0.893" stop-color="#3939c2"/><stop offset="1.002" stop-color="#3939c2"/></linearGradient><linearGradient id="g135" gradientUnits="userSpaceOnUse" x1="73" x2="512" y1="0" y2="0"><stop offset="0.000" stop-color="#3937bf"/><stop offset="0.401" stop-color="#3839c1"/><stop offset="0.492" stop-color="#2e4ed0"/><stop offset="0.620" stop-color="#206ae0"/><stop offset="0.665" stop-color="#2463dd"/><stop offset="0.765" stop-color="#383dc6"/><stop offset="0.866" stop-color="#3937bf"/><stop offset="1.002" stop-color="#3937bf"/></linearGradient><linearGradient id="g136" gradientUnits="userSpaceOnUse" x1="73" x2="512" y1="0" y2="0"><stop offset="0.000" stop-color="#3935bc"/><stop offset="0.401" stop-color="#3937c0"/><stop offset="0.492" stop-color="#304dd1"/><stop offset="0.620" stop-color="#2267df"/><stop offset="0.665" stop-color="#265fdb"/><stop offset="0.756" stop-color="#383cc5"/><stop offset="0.847" stop-color="#3935bd"/><stop offset="1.002" stop-color="#3935bc"/></linearGradient><linearGradient id="g137" gradientUnits="userSpaceOnUse" x1="73" x2="512" y1="0" y2="0"><stop offset="0.000" stop-color="#3933ba"/><stop offset="0.401" stop-color="#3935bd"/><stop offset="0.492" stop-color="#314acf"/><stop offset="0.620" stop-color="#2562dd"/><stop offset="0.665" stop-color="#295ad9"/><stop offset="0.747" stop-color="#383ac4"/><stop offset="0.829" stop-color="#3933ba"/><stop offset="1.002" stop-color="#3933ba"/></linearGradient><linearGradient id="g138" gradientUnits="userSpaceOnUse" x1="73" x2="512" y1="0" y2="0"><stop offset="0.000" stop-color="#3a31b8"/><stop offset="0.401" stop-color="#3933bb"/><stop offset="0.510" stop-color="#314bd0"/><stop offset="0.629" stop-color="#285cda"/><stop offset="0.683" stop-color="#304dd1"/><stop offset="0.747" stop-color="#3937c0"/><stop offset="0.847" stop-color="#3a31b8"/><stop offset="1.002" stop-color="#3a31b8"/></linearGradient></defs><g clip-path="url(#surf)"><rect x="73" y="116" width="439" height="2" fill="#faee1e"/><rect x="73" y="118" width="439" height="2" fill="#faee1e"/><rect x="73" y="120" width="439" height="2" fill="url(#g0)"/><rect x="73" y="122" width="439" height="2" fill="url(#g1)"/><rect x="73" y="124" width="439" height="2" fill="url(#g2)"/><rect x="73" y="126" width="439" height="2" fill="url(#g3)"/><rect x="73" y="128" width="439" height="2" fill="url(#g4)"/><rect x="73" y="130" width="439" height="2" fill="url(#g5)"/><rect x="73" y="132" width="439" height="2" fill="url(#g6)"/><rect x="73" y="134" width="439" height="2" fill="url(#g7)"/><rect x="73" y="136" width="439" height="2" fill="url(#g8)"/><rect x="73" y="138" width="439" height="2" fill="url(#g9)"/><rect x="73" y="140" width="439" height="2" fill="url(#g10)"/><rect x="73" y="142" width="439" height="2" fill="url(#g11)"/><rect x="73" y="144" width="439" height="2" fill="url(#g12)"/><rect x="73" y="146" width="439" height="2" fill="url(#g13)"/><rect x="73" y="148" width="439" height="2" fill="url(#g14)"/><rect x="73" y="150" width="439" height="2" fill="url(#g15)"/><rect x="73" y="152" width="439" height="2" fill="url(#g16)"/><rect x="73" y="154" width="439" height="2" fill="url(#g17)"/><rect x="73" y="156" width="439" height="2" fill="url(#g18)"/><rect x="73" y="158" width="439" height="2" fill="url(#g19)"/><rect x="73" y="160" width="439" height="2" fill="url(#g20)"/><rect x="73" y="162" width="439" height="2" fill="url(#g21)"/><rect x="73" y="164" width="439" height="2" fill="url(#g22)"/><rect x="73" y="166" width="439" height="2" fill="url(#g23)"/><rect x="73" y="168" width="439" height="2" fill="url(#g24)"/><rect x="73" y="170" width="439" height="2" fill="url(#g25)"/><rect x="73" y="172" width="439" height="2" fill="url(#g26)"/><rect x="73" y="174" width="439" height="2" fill="url(#g27)"/><rect x="73" y="176" width="439" height="2" fill="url(#g28)"/><rect x="73" y="178" width="439" height="2" fill="url(#g29)"/><rect x="73" y="180" width="439" height="2" fill="url(#g30)"/><rect x="73" y="182" width="439" height="2" fill="url(#g31)"/><rect x="73" y="184" width="439" height="2" fill="url(#g32)"/><rect x="73" y="186" width="439" height="2" fill="url(#g33)"/><rect x="73" y="188" width="439" height="2" fill="url(#g34)"/><rect x="73" y="190" width="439" height="2" fill="url(#g35)"/><rect x="73" y="192" width="439" height="2" fill="url(#g36)"/><rect x="73" y="194" width="439" height="2" fill="url(#g37)"/><rect x="73" y="196" width="439" height="2" fill="url(#g38)"/><rect x="73" y="198" width="439" height="2" fill="url(#g39)"/><rect x="73" y="200" width="439" height="2" fill="url(#g40)"/><rect x="73" y="202" width="439" height="2" fill="url(#g41)"/><rect x="73" y="204" width="439" height="2" fill="url(#g42)"/><rect x="73" y="206" width="439" height="2" fill="url(#g43)"/><rect x="73" y="208" width="439" height="2" fill="url(#g44)"/><rect x="73" y="210" width="439" height="2" fill="url(#g45)"/><rect x="73" y="212" width="439" height="2" fill="url(#g46)"/><rect x="73" y="214" width="439" height="2" fill="url(#g47)"/><rect x="73" y="216" width="439" height="2" fill="url(#g48)"/><rect x="73" y="218" width="439" height="2" fill="url(#g49)"/><rect x="73" y="220" width="439" height="2" fill="url(#g50)"/><rect x="73" y="222" width="439" height="2" fill="url(#g51)"/><rect x="73" y="224" width="439" height="2" fill="url(#g52)"/><rect x="73" y="226" width="439" height="2" fill="url(#g53)"/><rect x="73" y="228" width="439" height="2" fill="url(#g54)"/><rect x="73" y="230" width="439" height="2" fill="url(#g55)"/><rect x="73" y="232" width="439" height="2" fill="url(#g56)"/><rect x="73" y="234" width="439" height="2" fill="url(#g57)"/><rect x="73" y="236" width="439" height="2" fill="url(#g58)"/><rect x="73" y="238" width="439" height="2" fill="url(#g59)"/><rect x="73" y="240" width="439" height="2" fill="url(#g60)"/><rect x="73" y="242" width="439" height="2" fill="url(#g61)"/><rect x="73" y="244" width="439" height="2" fill="url(#g62)"/><rect x="73" y="246" width="439" height="2" fill="url(#g63)"/><rect x="73" y="248" width="439" height="2" fill="url(#g64)"/><rect x="73" y="250" width="439" height="2" fill="url(#g65)"/><rect x="73" y="252" width="439" height="2" fill="url(#g66)"/><rect x="73" y="254" width="439" height="2" fill="url(#g67)"/><rect x="73" y="256" width="439" height="2" fill="url(#g68)"/><rect x="73" y="258" width="439" height="2" fill="url(#g69)"/><rect x="73" y="260" width="439" height="2" fill="url(#g70)"/><rect x="73" y="262" width="439" height="2" fill="url(#g71)"/><rect x="73" y="264" width="439" height="2" fill="url(#g72)"/><rect x="73" y="266" width="439" height="2" fill="url(#g73)"/><rect x="73" y="268" width="439" height="2" fill="url(#g74)"/><rect x="73" y="270" width="439" height="2" fill="url(#g75)"/><rect x="73" y="272" width="439" height="2" fill="url(#g76)"/><rect x="73" y="274" width="439" height="2" fill="url(#g77)"/><rect x="73" y="276" width="439" height="2" fill="url(#g78)"/><rect x="73" y="278" width="439" height="2" fill="url(#g79)"/><rect x="73" y="280" width="439" height="2" fill="url(#g80)"/><rect x="73" y="282" width="439" height="2" fill="url(#g81)"/><rect x="73" y="284" width="439" height="2" fill="url(#g82)"/><rect x="73" y="286" width="439" height="2" fill="url(#g83)"/><rect x="73" y="288" width="439" height="2" fill="url(#g84)"/><rect x="73" y="290" width="439" height="2" fill="url(#g85)"/><rect x="73" y="292" width="439" height="2" fill="url(#g86)"/><rect x="73" y="294" width="439" height="2" fill="url(#g87)"/><rect x="73" y="296" width="439" height="2" fill="url(#g88)"/><rect x="73" y="298" width="439" height="2" fill="url(#g89)"/><rect x="73" y="300" width="439" height="2" fill="url(#g90)"/><rect x="73" y="302" width="439" height="2" fill="url(#g91)"/><rect x="73" y="304" width="439" height="2" fill="url(#g92)"/><rect x="73" y="306" width="439" height="2" fill="url(#g93)"/><rect x="73" y="308" width="439" height="2" fill="url(#g94)"/><rect x="73" y="310" width="439" height="2" fill="url(#g95)"/><rect x="73" y="312" width="439" height="2" fill="url(#g96)"/><rect x="73" y="314" width="439" height="2" fill="url(#g97)"/><rect x="73" y="316" width="439" height="2" fill="url(#g98)"/><rect x="73" y="318" width="439" height="2" fill="url(#g99)"/><rect x="73" y="320" width="439" height="2" fill="url(#g100)"/><rect x="73" y="322" width="439" height="2" fill="url(#g101)"/><rect x="73" y="324" width="439" height="2" fill="url(#g102)"/><rect x="73" y="326" width="439" height="2" fill="url(#g103)"/><rect x="73" y="328" width="439" height="2" fill="url(#g104)"/><rect x="73" y="330" width="439" height="2" fill="url(#g105)"/><rect x="73" y="332" width="439" height="2" fill="url(#g106)"/><rect x="73" y="334" width="439" height="2" fill="url(#g107)"/><rect x="73" y="336" width="439" height="2" fill="url(#g108)"/><rect x="73" y="338" width="439" height="2" fill="url(#g109)"/><rect x="73" y="340" width="439" height="2" fill="url(#g110)"/><rect x="73" y="342" width="439" height="2" fill="url(#g111)"/><rect x="73" y="344" width="439" height="2" fill="url(#g112)"/><rect x="73" y="346" width="439" height="2" fill="url(#g113)"/><rect x="73" y="348" width="439" height="2" fill="url(#g114)"/><rect x="73" y="350" width="439" height="2" fill="url(#g115)"/><rect x="73" y="352" width="439" height="2" fill="url(#g116)"/><rect x="73" y="354" width="439" height="2" fill="url(#g117)"/><rect x="73" y="356" width="439" height="2" fill="url(#g118)"/><rect x="73" y="358" width="439" height="2" fill="url(#g119)"/><rect x="73" y="360" width="439" height="2" fill="url(#g120)"/><rect x="73" y="362" width="439" height="2" fill="url(#g121)"/><rect x="73" y="364" width="439" height="2" fill="url(#g122)"/><rect x="73" y="366" width="439" height="2" fill="url(#g123)"/><rect x="73" y="368" width="439" height="2" fill="url(#g124)"/><rect x="73" y="370" width="439" height="2" fill="url(#g125)"/><rect x="73" y="372" width="439" height="2" fill="url(#g126)"/><rect x="73" y="374" width="439" height="2" fill="url(#g127)"/><rect x="73" y="376" width="439" height="2" fill="url(#g128)"/><rect x="73" y="378" width="439" height="2" fill="url(#g129)"/><rect x="73" y="380" width="439" height="2" fill="url(#g130)"/><rect x="73" y="382" width="439" height="2" fill="url(#g131)"/><rect x="73" y="384" width="439" height="2" fill="url(#g132)"/><rect x="73" y="386" width="439" height="2" fill="url(#g133)"/><rect x="73" y="388" width="439" height="2" fill="url(#g134)"/><rect x="73" y="390" width="439" height="2" fill="url(#g135)"/><rect x="73" y="392" width="439" height="2" fill="url(#g136)"/><rect x="73" y="394" width="439" height="2" fill="url(#g137)"/><rect x="73" y="396" width="439" height="2" fill="url(#g138)"/></g>
<path d="M281.1 85.2l6.8 2M284.3 82.8l0.4 6.8M349.3 101.9l6.8 2M352.5 99.5l0.4 6.8M500.2 169.2l6.8 2M503.4 166.8l0.4 6.8M164.4 128.1l6.8 2M167.6 125.7l0.4 6.8M234.1 143.0l6.8 2M237.3 140.6l0.4 6.8M235.8 145.9l6.8 2M239.0 143.5l0.4 6.8M237.1 157.9l6.8 2M240.3 155.5l0.4 6.8M235.5 165.5l6.8 2M238.7 163.1l0.4 6.8M226.8 168.3l6.8 2M230.0 165.9l0.4 6.8M228.4 169.9l6.8 2M231.6 167.5l0.4 6.8M235.0 171.5l6.8 2M238.2 169.1l0.4 6.8M224.1 179.7l6.8 2M227.3 177.3l0.4 6.8M262.8 171.0l6.8 2M266.0 168.6l0.4 6.8M226.0 192.1l6.8 2M229.2 189.7l0.4 6.8M245.1 193.2l6.8 2M248.3 190.8l0.4 6.8M221.1 195.9l6.8 2M224.3 193.5l0.4 6.8M220.6 200.8l6.8 2M223.8 198.4l0.4 6.8M228.8 203.5l6.8 2M232.0 201.1l0.4 6.8M212.4 205.7l6.8 2M215.6 203.3l0.4 6.8M216.2 207.9l6.8 2M219.4 205.5l0.4 6.8M222.2 210.1l6.8 2M225.4 207.7l0.4 6.8M215.1 215.5l6.8 2M218.3 213.1l0.4 6.8M211.9 220.4l6.8 2M215.1 218.0l0.4 6.8M213.0 222.6l6.8 2M216.2 220.2l0.4 6.8M218.4 223.2l6.8 2M221.6 220.8l0.4 6.8M223.3 225.9l6.8 2M226.5 223.5l0.4 6.8M210.8 227.5l6.8 2M214.0 225.1l0.4 6.8M237.0 224.3l6.8 2M240.2 221.9l0.4 6.8M213.0 233.5l6.8 2M216.2 231.1l0.4 6.8M215.1 236.8l6.8 2M218.3 234.4l0.4 6.8M211.9 230.1l6.8 2M215.1 227.7l0.4 6.8M217.9 238.8l6.8 2M221.1 236.4l0.4 6.8M221.1 239.9l6.8 2M224.3 237.5l0.4 6.8M228.2 241.0l6.8 2M231.4 238.6l0.4 6.8M228.2 244.3l6.8 2M231.4 241.9l0.4 6.8M240.8 239.9l6.8 2M244.0 237.5l0.4 6.8M253.3 244.8l6.8 2M256.5 242.4l0.4 6.8M210.2 245.4l6.8 2M213.4 243.0l0.4 6.8M207.5 247.0l6.8 2M210.7 244.6l0.4 6.8M213.0 248.1l6.8 2M216.2 245.7l0.4 6.8M215.7 251.4l6.8 2M218.9 249.0l0.4 6.8M229.3 249.2l6.8 2M232.5 246.8l0.4 6.8M205.3 251.9l6.8 2M208.5 249.5l0.4 6.8M207.5 255.2l6.8 2M210.7 252.8l0.4 6.8M235.3 256.8l6.8 2M238.5 254.4l0.4 6.8M219.0 259.5l6.8 2M222.2 257.1l0.4 6.8M209.1 261.7l6.8 2M212.3 259.3l0.4 6.8M204.8 263.9l6.8 2M208.0 261.5l0.4 6.8M206.4 266.6l6.8 2M209.6 264.2l0.4 6.8M209.1 268.8l6.8 2M212.3 266.4l0.4 6.8M251.7 261.7l6.8 2M254.9 259.3l0.4 6.8M254.4 263.9l6.8 2M257.6 261.5l0.4 6.8M250.0 268.3l6.8 2M253.2 265.9l0.4 6.8M253.3 271.5l6.8 2M256.5 269.1l0.4 6.8M247.9 277.0l6.8 2M251.1 274.6l0.4 6.8M251.1 279.2l6.8 2M254.3 276.8l0.4 6.8M245.7 281.4l6.8 2M248.9 279.0l0.4 6.8M247.9 284.6l6.8 2M251.1 282.2l0.4 6.8M206.4 280.3l6.8 2M209.6 277.9l0.4 6.8M207.5 284.6l6.8 2M210.7 282.2l0.4 6.8M203.1 287.9l6.8 2M206.3 285.5l0.4 6.8M231.5 287.9l6.8 2M234.7 285.5l0.4 6.8M268.4 230.6l6.8 2M271.6 228.2l0.4 6.8M272.8 232.3l6.8 2M276.0 229.9l0.4 6.8M276.0 233.4l6.8 2M279.2 231.0l0.4 6.8M283.7 231.7l6.8 2M286.9 229.3l0.4 6.8M286.4 234.5l6.8 2M289.6 232.1l0.4 6.8M290.2 232.3l6.8 2M293.4 229.9l0.4 6.8M293.5 233.9l6.8 2M296.7 231.5l0.4 6.8M297.9 230.6l6.8 2M301.1 228.2l0.4 6.8M297.3 238.3l6.8 2M300.5 235.9l0.4 6.8M264.6 241.0l6.8 2M267.8 238.6l0.4 6.8M267.9 244.3l6.8 2M271.1 241.9l0.4 6.8M267.3 248.1l6.8 2M270.5 245.7l0.4 6.8M279.3 241.0l6.8 2M282.5 238.6l0.4 6.8M276.0 247.0l6.8 2M279.2 244.6l0.4 6.8M279.3 249.2l6.8 2M282.5 246.8l0.4 6.8M281.5 250.8l6.8 2M284.7 248.4l0.4 6.8M273.9 250.8l6.8 2M277.1 248.4l0.4 6.8M288.0 255.2l6.8 2M291.2 252.8l0.4 6.8M294.6 253.0l6.8 2M297.8 250.6l0.4 6.8M304.4 257.4l6.8 2M307.6 255.0l0.4 6.8M264.0 253.5l6.8 2M267.2 251.1l0.4 6.8M261.9 256.8l6.8 2M265.1 254.4l0.4 6.8M259.1 259.5l6.8 2M262.3 257.1l0.4 6.8M268.4 260.6l6.8 2M271.6 258.2l0.4 6.8M272.8 262.8l6.8 2M276.0 260.4l0.4 6.8M257.5 267.2l6.8 2M260.7 264.8l0.4 6.8M253.1 268.3l6.8 2M256.3 265.9l0.4 6.8M261.9 266.1l6.8 2M265.1 263.7l0.4 6.8M267.3 267.2l6.8 2M270.5 264.8l0.4 6.8M249.9 270.4l6.8 2M253.1 268.0l0.4 6.8M255.3 272.6l6.8 2M258.5 270.2l0.4 6.8M259.7 273.7l6.8 2M262.9 271.3l0.4 6.8M252.1 277.0l6.8 2M255.3 274.6l0.4 6.8M256.4 278.1l6.8 2M259.6 275.7l0.4 6.8M261.9 279.2l6.8 2M265.1 276.8l0.4 6.8M248.8 280.3l6.8 2M252.0 277.9l0.4 6.8M253.1 283.5l6.8 2M256.3 281.1l0.4 6.8M258.6 284.6l6.8 2M261.8 282.2l0.4 6.8M267.3 283.5l6.8 2M270.5 281.1l0.4 6.8M263.0 286.8l6.8 2M266.2 284.4l0.4 6.8M284.8 268.3l6.8 2M288.0 265.9l0.4 6.8M289.1 266.1l6.8 2M292.3 263.7l0.4 6.8M292.4 268.8l6.8 2M295.6 266.4l0.4 6.8M295.7 265.0l6.8 2M298.9 262.6l0.4 6.8M296.8 275.9l6.8 2M300.0 273.5l0.4 6.8M279.3 278.1l6.8 2M282.5 275.7l0.4 6.8M281.5 281.4l6.8 2M284.7 279.0l0.4 6.8M290.2 281.9l6.8 2M293.4 279.5l0.4 6.8M279.3 285.7l6.8 2M282.5 283.3l0.4 6.8M287.5 182.3l6.8 2M290.7 179.9l0.4 6.8M300.0 181.2l6.8 2M303.2 178.8l0.4 6.8M292.9 193.7l6.8 2M296.1 191.3l0.4 6.8M283.1 205.2l6.8 2M286.3 202.8l0.4 6.8M284.8 207.4l6.8 2M288.0 205.0l0.4 6.8M279.3 211.7l6.8 2M282.5 209.3l0.4 6.8M282.6 213.9l6.8 2M285.8 211.5l0.4 6.8M291.3 215.5l6.8 2M294.5 213.1l0.4 6.8M297.9 215.0l6.8 2M301.1 212.6l0.4 6.8M303.3 211.2l6.8 2M306.5 208.8l0.4 6.8M280.4 219.9l6.8 2M283.6 217.5l0.4 6.8M285.9 217.2l6.8 2M289.1 214.8l0.4 6.8M291.3 222.1l6.8 2M294.5 219.7l0.4 6.8M303.3 220.4l6.8 2M306.5 218.0l0.4 6.8M266.8 225.9l6.8 2M270.0 223.5l0.4 6.8M270.0 227.0l6.8 2M273.2 224.6l0.4 6.8M272.8 229.2l6.8 2M276.0 226.8l0.4 6.8M288.0 232.4l6.8 2M291.2 230.0l0.4 6.8M323.3 175.4l6.8 2M326.5 173.0l0.4 6.8M321.4 188.1l6.8 2M324.6 185.7l0.4 6.8M315.7 198.3l6.8 2M318.9 195.9l0.4 6.8M313.1 200.2l6.8 2M316.3 197.8l0.4 6.8M305.5 223.1l6.8 2M308.7 220.7l0.4 6.8M292.4 175.7l6.8 2M295.6 173.3l0.4 6.8M336.1 165.2l6.8 2M339.3 162.8l0.4 6.8M310.0 247.5l6.8 2M313.2 245.1l0.4 6.8M365.3 267.2l6.8 2M368.5 264.8l0.4 6.8M371.3 260.8l6.8 2M374.5 258.4l0.4 6.8M352.0 278.0l6.8 2M355.2 275.6l0.4 6.8M348.1 283.7l6.8 2M351.3 281.3l0.4 6.8M336.7 292.0l6.8 2M339.9 289.6l0.4 6.8M322.7 297.7l6.8 2M325.9 295.3l0.4 6.8M314.4 298.4l6.8 2M317.6 296.0l0.4 6.8M313.3 302.5l6.8 2M316.5 300.1l0.4 6.8M317.8 311.4l6.8 2M321.0 309.0l0.4 6.8M305.7 324.1l6.8 2M308.9 321.7l0.4 6.8M287.9 324.7l6.8 2M291.1 322.3l0.4 6.8M295.5 331.1l6.8 2M298.7 328.7l0.4 6.8M312.1 329.8l6.8 2M315.3 327.4l0.4 6.8M290.4 337.5l6.8 2M293.6 335.1l0.4 6.8M294.9 345.1l6.8 2M298.1 342.7l0.4 6.8M231.8 289.8l6.8 2M235.0 287.4l0.4 6.8M229.2 301.9l6.8 2M232.4 299.5l0.4 6.8M236.9 308.3l6.8 2M240.1 305.9l0.4 6.8M239.4 301.9l6.8 2M242.6 299.5l0.4 6.8M243.9 296.8l6.8 2M247.1 294.4l0.4 6.8M245.8 291.7l6.8 2M249.0 289.3l0.4 6.8M249.6 304.5l6.8 2M252.8 302.1l0.4 6.8M252.1 307.0l6.8 2M255.3 304.6l0.4 6.8M256.0 282.8l6.8 2M259.2 280.4l0.4 6.8M259.8 280.9l6.8 2M263.0 278.5l0.4 6.8M259.8 291.7l6.8 2M263.0 289.3l0.4 6.8M259.8 308.3l6.8 2M263.0 305.9l0.4 6.8M266.1 281.5l6.8 2M269.3 279.1l0.4 6.8M267.4 290.5l6.8 2M270.6 288.1l0.4 6.8M268.7 305.7l6.8 2M271.9 303.3l0.4 6.8M270.6 309.5l6.8 2M273.8 307.1l0.4 6.8M273.8 294.3l6.8 2M277.0 291.9l0.4 6.8M276.3 298.1l6.8 2M279.5 295.7l0.4 6.8M281.4 290.5l6.8 2M284.6 288.1l0.4 6.8M284.0 296.8l6.8 2M287.2 294.4l0.4 6.8M244.5 318.5l6.8 2M247.7 316.1l0.4 6.8M231.8 326.1l6.8 2M235.0 323.7l0.4 6.8M230.5 331.2l6.8 2M233.7 328.8l0.4 6.8M226.1 338.8l6.8 2M229.3 336.4l0.4 6.8M253.4 331.2l6.8 2M256.6 328.8l0.4 6.8M264.2 326.1l6.8 2M267.4 323.7l0.4 6.8M270.0 336.3l6.8 2M273.2 333.9l0.4 6.8M278.9 342.6l6.8 2M282.1 340.2l0.4 6.8M204.3 304.6l6.8 2M207.5 302.2l0.4 6.8M205.0 319.3l6.8 2M208.2 316.9l0.4 6.8M474.4 213.5l6.8 2M477.6 211.1l0.4 6.8M434.6 233.6l6.8 2M437.8 231.2l0.4 6.8M386.8 281.0l6.8 2M390.0 278.6l0.4 6.8M153.1 252.0l6.8 2M156.3 249.6l0.2 3.6M272.2 358.8l6.8 2M275.4 356.4l0.4 6.8M263.0 368.5l6.8 2M266.2 366.1l0.4 6.8M188.2 380.5l6.8 2M191.4 378.1l0.4 6.8M284.9 390.6l6.8 2M288.1 388.2l0.4 6.8M286.2 394.4l6.8 2M289.4 392.0l0.4 6.8M250.6 397.0l6.8 2M253.8 394.6l0.4 6.8M256.9 401.6l6.8 2M260.1 399.2l0.4 6.8M268.4 402.1l6.8 2M271.6 399.7l0.4 6.8M276.0 402.8l6.8 2M279.2 400.4l0.4 6.8M295.1 404.1l6.8 2M298.3 401.7l0.4 6.8M298.9 400.0l6.8 2M302.1 397.6l0.4 6.8M237.8 410.5l6.8 2M241.0 408.1l0.4 6.8M274.8 431.3l6.8 2M278.0 428.9l0.4 6.8M216.2 439.8l6.8 2M219.4 437.4l0.4 6.8M248.0 442.8l6.8 2M251.2 440.4l0.4 6.8M420.4 347.0l6.8 2M423.6 344.6l0.4 6.8M334.0 457.0l6.8 2M337.2 454.6l0.4 6.8" stroke="#111" stroke-width="1.9" fill="none"/><path d="M234.2 176.8l4 1.2M236.2 177.4l0 -2.5M224.7 273.0l4 1.2M226.7 273.6l0 -2.5M249.1 194.1l4 1.2M251.1 194.7l0 -2.5M322.8 238.8l4 1.2M324.8 239.4l0 -2.5M319.6 255.5l4 1.2M321.6 256.1l0 -2.5M314.5 261.9l4 1.2M316.5 262.5l0 -2.5M342.1 309.2l4 1.2M344.1 309.8l0 -2.5M335.1 321.9l4 1.2M337.1 322.5l0 -2.5M310.9 334.0l4 1.2M312.9 334.6l0 -2.5M261.2 301.0l4 1.2M263.2 301.6l0 -2.5M238.9 338.6l4 1.2M240.9 339.2l0 -2.5M199.4 302.5l4 1.2M201.4 303.1l0 -2.5" stroke="#111" stroke-width="1.6" fill="none"/>
<g font-family="Liberation Sans, Arial, sans-serif" font-size="14" fill="#111" stroke="#111" stroke-width="0.3"><text transform="matrix(0.82 0.24 0 1 45.2 455.4)" text-anchor="end">0.6</text><text transform="matrix(0.82 0.24 0 1 45.2 416)" text-anchor="end">0.7</text><text transform="matrix(0.82 0.24 0 1 45.2 376.6)" text-anchor="end">0.8</text><text transform="matrix(0.82 0.24 0 1 45.2 337.2)" text-anchor="end">0.9</text><text transform="matrix(0.82 0.24 0 1 45.2 297.8)" text-anchor="end">1</text><text transform="matrix(0.82 0.24 0 1 45.2 258.4)" text-anchor="end">1.1</text><text transform="matrix(0.82 0.24 0 1 45.2 219)" text-anchor="end">1.2</text><text transform="matrix(0.82 0.24 0 1 45.2 179.6)" text-anchor="end">1.3</text><text transform="matrix(0.82 0.24 0 1 45.2 140.2)" text-anchor="end">1.4</text><text transform="matrix(0.82 0.24 0 1 49.5 470)" text-anchor="middle"><tspan font-size="10" dy="-3.5">&#8211;</tspan><tspan dy="3.5">0.5</tspan></text><text transform="matrix(0.82 0.24 0 1 78.57 478.45)" text-anchor="middle"><tspan font-size="10" dy="-3.5">&#8211;</tspan><tspan dy="3.5">0.4</tspan></text><text transform="matrix(0.82 0.24 0 1 107.64 486.9)" text-anchor="middle"><tspan font-size="10" dy="-3.5">&#8211;</tspan><tspan dy="3.5">0.3</tspan></text><text transform="matrix(0.82 0.24 0 1 136.71 495.35)" text-anchor="middle"><tspan font-size="10" dy="-3.5">&#8211;</tspan><tspan dy="3.5">0.2</tspan></text><text transform="matrix(0.82 0.24 0 1 165.78 503.8)" text-anchor="middle"><tspan font-size="10" dy="-3.5">&#8211;</tspan><tspan dy="3.5">0.1</tspan></text><text transform="matrix(0.82 0.24 0 1 195.95 512.25)" text-anchor="middle">0</text><text transform="matrix(0.82 0.24 0 1 225.02 520.7)" text-anchor="middle">0.1</text><text transform="matrix(0.82 0.24 0 1 254.09 529.15)" text-anchor="middle">0.2</text><text transform="matrix(0.82 0.24 0 1 283.16 537.6)" text-anchor="middle">0.3</text><text transform="matrix(0.82 0.24 0 1 312.23 546.05)" text-anchor="middle">0.4</text><text transform="matrix(0.82 0.24 0 1 341.8 554.5)" text-anchor="middle">0.5</text><text transform="matrix(0.82 0.24 0 1 341.8 554.5)" text-anchor="middle">0</text><text transform="matrix(0.52 -0.29 -0.12 0.99 359.91 543.15)" text-anchor="middle" font-size="15" stroke-width="0.5">0.02</text><text transform="matrix(0.52 -0.29 -0.12 0.99 379.32 530.5)" text-anchor="middle" font-size="15" stroke-width="0.5">0.04</text><text transform="matrix(0.52 -0.29 -0.12 0.99 398.73 517.85)" text-anchor="middle" font-size="15" stroke-width="0.5">0.06</text><text transform="matrix(0.52 -0.29 -0.12 0.99 418.14 505.2)" text-anchor="middle" font-size="15" stroke-width="0.5">0.08</text><text transform="matrix(0.52 -0.29 -0.12 0.99 437.55 492.55)" text-anchor="middle" font-size="15" stroke-width="0.5">0.1</text><text transform="matrix(0.52 -0.29 -0.12 0.99 456.96 479.9)" text-anchor="middle" font-size="15" stroke-width="0.5">0.12</text><text transform="matrix(0.52 -0.29 -0.12 0.99 476.37 467.25)" text-anchor="middle" font-size="15" stroke-width="0.5">0.14</text><text transform="matrix(0.52 -0.29 -0.12 0.99 495.78 454.6)" text-anchor="middle" font-size="15" stroke-width="0.5">0.16</text><text transform="matrix(0.52 -0.29 -0.12 0.99 515.19 441.95)" text-anchor="middle" font-size="15" stroke-width="0.5">0.18</text><text transform="matrix(0.52 -0.29 -0.12 0.99 534.6 429.3)" text-anchor="middle" font-size="15" stroke-width="0.5">0.2</text></g>
<text transform="translate(22.8 474.5) rotate(-90)" font-family="Liberation Sans, Arial, sans-serif" font-style="italic" font-size="17.6" fill="#111" stroke="#111" stroke-width="0.15">Normalized Peak Discharge by Their Mean(m<tspan baseline-shift="super" font-size="10">3</tspan>/s)</text>
<text transform="matrix(0.92 0.28 0 1 173.3 525.5)" font-family="Liberation Sans, Arial, sans-serif" font-size="18" fill="#111" stroke="#111" stroke-width="0.25">Skew<tspan dy="5.5" font-size="12.5">P</tspan></text>
<text transform="matrix(0.49 -0.29 -0.12 0.99 417.8 523)" font-family="Liberation Sans, Arial, sans-serif" font-size="21" fill="#111" stroke="#111" stroke-width="0.45">NRMSE<tspan dy="5" font-size="14">P</tspan></text>
<g font-family="Liberation Serif, Times New Roman, serif" font-size="18.3" fill="#ff0000" stroke="#ff0000" stroke-width="0.3"><text x="79.3" y="107.6">reference point: design flood</text><text x="82.5" y="128.2">based on existing guidelines</text></g>
<path d="M179.2 164.6H196.7V210.1H205.3L187.8 227.6L170 210.1H179.2Z" fill="#cc0000"/>
<circle cx="188.3" cy="255.6" r="13.5" fill="none" stroke="#ff1c1c" stroke-width="2.7" stroke-dasharray="6.2 3.225" stroke-dashoffset="-3.5"/>
</svg></body></html>
